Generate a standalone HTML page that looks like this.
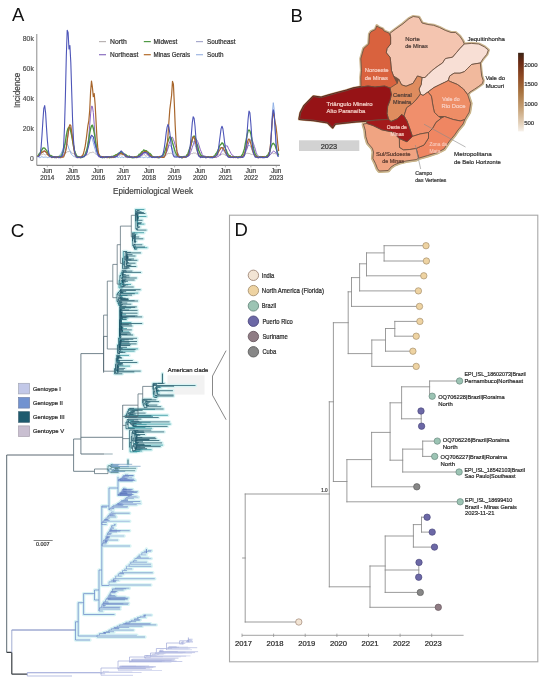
<!DOCTYPE html>
<html><head><meta charset="utf-8"><style>
html,body{margin:0;padding:0;background:#fff;}
svg{display:block;font-family:'Liberation Sans', Arial, sans-serif;}
</style></head><body>
<svg width="550" height="687" viewBox="0 0 550 687">
<rect width="550" height="687" fill="#fff"/>
<text x="12" y="21.4" font-size="18.5" fill="#111" text-anchor="start" >A</text>
<line x1="36.8" y1="34" x2="36.8" y2="165.4" stroke="#8c8c8c" stroke-width="1"/>
<line x1="36.8" y1="165.3" x2="280" y2="165.3" stroke="#6a6a6a" stroke-width="1"/>
<text x="33.8" y="160.9" font-size="6.8" fill="#555" text-anchor="end" stroke="#555" stroke-width="0.22" >0</text>
<text x="33.8" y="130.9" font-size="6.8" fill="#555" text-anchor="end" stroke="#555" stroke-width="0.22" >20k</text>
<text x="33.8" y="100.9" font-size="6.8" fill="#555" text-anchor="end" stroke="#555" stroke-width="0.22" >40k</text>
<text x="33.8" y="70.9" font-size="6.8" fill="#555" text-anchor="end" stroke="#555" stroke-width="0.22" >60k</text>
<text x="33.8" y="40.9" font-size="6.8" fill="#555" text-anchor="end" stroke="#555" stroke-width="0.22" >80k</text>
<line x1="47.3" y1="165.4" x2="47.3" y2="167.4" stroke="#8a8a8a" stroke-width="0.6"/>
<text x="47.3" y="172.8" font-size="6.3" fill="#444" text-anchor="middle" stroke="#444" stroke-width="0.22" >Jun</text>
<text x="47.3" y="179.9" font-size="6.3" fill="#444" text-anchor="middle" stroke="#444" stroke-width="0.22" >2014</text>
<line x1="72.8" y1="165.4" x2="72.8" y2="167.4" stroke="#8a8a8a" stroke-width="0.6"/>
<text x="72.8" y="172.8" font-size="6.3" fill="#444" text-anchor="middle" stroke="#444" stroke-width="0.22" >Jun</text>
<text x="72.8" y="179.9" font-size="6.3" fill="#444" text-anchor="middle" stroke="#444" stroke-width="0.22" >2015</text>
<line x1="98.2" y1="165.4" x2="98.2" y2="167.4" stroke="#8a8a8a" stroke-width="0.6"/>
<text x="98.2" y="172.8" font-size="6.3" fill="#444" text-anchor="middle" stroke="#444" stroke-width="0.22" >Jun</text>
<text x="98.2" y="179.9" font-size="6.3" fill="#444" text-anchor="middle" stroke="#444" stroke-width="0.22" >2016</text>
<line x1="123.6" y1="165.4" x2="123.6" y2="167.4" stroke="#8a8a8a" stroke-width="0.6"/>
<text x="123.6" y="172.8" font-size="6.3" fill="#444" text-anchor="middle" stroke="#444" stroke-width="0.22" >Jun</text>
<text x="123.6" y="179.9" font-size="6.3" fill="#444" text-anchor="middle" stroke="#444" stroke-width="0.22" >2017</text>
<line x1="149.1" y1="165.4" x2="149.1" y2="167.4" stroke="#8a8a8a" stroke-width="0.6"/>
<text x="149.1" y="172.8" font-size="6.3" fill="#444" text-anchor="middle" stroke="#444" stroke-width="0.22" >Jun</text>
<text x="149.1" y="179.9" font-size="6.3" fill="#444" text-anchor="middle" stroke="#444" stroke-width="0.22" >2018</text>
<line x1="174.6" y1="165.4" x2="174.6" y2="167.4" stroke="#8a8a8a" stroke-width="0.6"/>
<text x="174.6" y="172.8" font-size="6.3" fill="#444" text-anchor="middle" stroke="#444" stroke-width="0.22" >Jun</text>
<text x="174.6" y="179.9" font-size="6.3" fill="#444" text-anchor="middle" stroke="#444" stroke-width="0.22" >2019</text>
<line x1="200" y1="165.4" x2="200" y2="167.4" stroke="#8a8a8a" stroke-width="0.6"/>
<text x="200" y="172.8" font-size="6.3" fill="#444" text-anchor="middle" stroke="#444" stroke-width="0.22" >Jun</text>
<text x="200" y="179.9" font-size="6.3" fill="#444" text-anchor="middle" stroke="#444" stroke-width="0.22" >2020</text>
<line x1="225.4" y1="165.4" x2="225.4" y2="167.4" stroke="#8a8a8a" stroke-width="0.6"/>
<text x="225.4" y="172.8" font-size="6.3" fill="#444" text-anchor="middle" stroke="#444" stroke-width="0.22" >Jun</text>
<text x="225.4" y="179.9" font-size="6.3" fill="#444" text-anchor="middle" stroke="#444" stroke-width="0.22" >2021</text>
<line x1="250.9" y1="165.4" x2="250.9" y2="167.4" stroke="#8a8a8a" stroke-width="0.6"/>
<text x="250.9" y="172.8" font-size="6.3" fill="#444" text-anchor="middle" stroke="#444" stroke-width="0.22" >Jun</text>
<text x="250.9" y="179.9" font-size="6.3" fill="#444" text-anchor="middle" stroke="#444" stroke-width="0.22" >2022</text>
<line x1="276.3" y1="165.4" x2="276.3" y2="167.4" stroke="#8a8a8a" stroke-width="0.6"/>
<text x="276.3" y="172.8" font-size="6.3" fill="#444" text-anchor="middle" stroke="#444" stroke-width="0.22" >Jun</text>
<text x="276.3" y="179.9" font-size="6.3" fill="#444" text-anchor="middle" stroke="#444" stroke-width="0.22" >2023</text>
<text x="19.6" y="90.4" font-size="9.3" fill="#444" text-anchor="middle" stroke="#444" stroke-width="0.22" textLength="35.3" lengthAdjust="spacingAndGlyphs" transform="rotate(-90 19.6 90.4)">Incidence</text>
<text x="153" y="194.4" font-size="9.3" fill="#444" text-anchor="middle" stroke="#444" stroke-width="0.22" textLength="80" lengthAdjust="spacingAndGlyphs" >Epidemiological Week</text>
<line x1="99" y1="41.6" x2="106" y2="41.6" stroke="#b9b3b3" stroke-width="1.2"/>
<text x="110" y="44" font-size="6.7" fill="#333" text-anchor="start" stroke="#333" stroke-width="0.22" textLength="16.7" lengthAdjust="spacingAndGlyphs" >North</text>
<line x1="99" y1="54.7" x2="106" y2="54.7" stroke="#8b6fc0" stroke-width="1.2"/>
<text x="110" y="57.1" font-size="6.7" fill="#333" text-anchor="start" stroke="#333" stroke-width="0.22" textLength="28.3" lengthAdjust="spacingAndGlyphs" >Northeast</text>
<line x1="143.8" y1="41.6" x2="150.8" y2="41.6" stroke="#4f9a45" stroke-width="1.2"/>
<text x="153.6" y="44" font-size="6.7" fill="#333" text-anchor="start" stroke="#333" stroke-width="0.22" textLength="23.7" lengthAdjust="spacingAndGlyphs" >Midwest</text>
<line x1="143.8" y1="54.7" x2="150.8" y2="54.7" stroke="#b36a28" stroke-width="1.2"/>
<text x="153.6" y="57.1" font-size="6.7" fill="#333" text-anchor="start" stroke="#333" stroke-width="0.22" textLength="36.4" lengthAdjust="spacingAndGlyphs" >Minas Gerais</text>
<line x1="196" y1="41.6" x2="203" y2="41.6" stroke="#a7a9cc" stroke-width="1.2"/>
<text x="207" y="44" font-size="6.7" fill="#333" text-anchor="start" stroke="#333" stroke-width="0.22" textLength="28.5" lengthAdjust="spacingAndGlyphs" >Southeast</text>
<line x1="196" y1="54.7" x2="203" y2="54.7" stroke="#9fb6e3" stroke-width="1.2"/>
<text x="207" y="57.1" font-size="6.7" fill="#333" text-anchor="start" stroke="#333" stroke-width="0.22" textLength="16.5" lengthAdjust="spacingAndGlyphs" >South</text>
<polyline points="37.5,156.8 38.4,155.7 39.3,155.4 40.2,155.6 41.1,154.9 42,154.6 42.9,154.1 43.8,153.9 44.7,154.7 45.6,155 46.5,154.3 47.4,155.2 48.3,155.2 49.2,156.5 50.1,156.3 51,156.3 51.9,157.1 52.8,156.4 53.7,156.6 54.6,157.7 55.5,157.7 56.4,157.1 57.3,156.6 58.2,157.2 59.1,157.3 60,156.8 60.9,157 61.8,156.3 62.7,155.5 63.6,154.8 64.5,154.3 65.4,153.5 66.3,152.8 67.2,151.8 68.1,151.6 69,151.8 69.9,150.9 70.8,151.7 71.7,152.3 72.6,153.6 73.5,153.4 74.4,154.4 75.3,155.9 76.2,156.2 77.1,156.2 78,156.5 78.9,156.4 79.8,157.1 80.7,156.7 81.6,156.8 82.5,157.1 83.4,156.6 84.3,156 85.2,155.6 86.1,155.5 87,154.8 87.9,154.8 88.8,153.9 89.7,152.6 90.6,152.6 91.5,152.6 92.4,152.2 93.3,152.2 94.2,152.7 95.1,153.6 96,154.2 96.9,154.8 97.8,155.1 98.7,155.9 99.6,156.5 100.5,156.7 101.4,157.4 102.3,157.6 103.2,156.9 104.1,156.6 105,157.1 105.9,157.3 106.8,157.6 107.7,157.2 108.6,156.6 109.5,156.8 110.4,157.1 111.3,156.7 112.2,157.3 113.1,156.9 114,156.2 114.9,156.5 115.8,156.4 116.7,156.4 117.6,155.7 118.5,155 119.4,155.9 120.3,154.9 121.2,154.8 122.1,154.8 123,155.1 123.9,155.3 124.8,155.9 125.7,156.1 126.6,156.5 127.5,157.2 128.4,156.4 129.3,156.9 130.2,157.4 131.1,157.1 132,157.2 132.9,157.3 133.8,157.3 134.7,157.1 135.6,156.9 136.5,156.9 137.4,156.9 138.3,157.3 139.2,156.8 140.1,156.6 141,155.9 141.9,155.3 142.8,155.1 143.7,154.9 144.6,154.8 145.5,155.5 146.4,154.9 147.3,155.3 148.2,156.2 149.1,156.6 150,156.9 150.9,156.2 151.8,157 152.7,157.4 153.6,156.9 154.5,157.3 155.4,157.6 156.3,157.6 157.2,157.1 158.1,157.6 159,157.4 159.9,156.8 160.8,157 161.7,156.9 162.6,156.5 163.5,156.7 164.4,155.8 165.3,155.3 166.2,155 167.1,154.6 168,153.2 168.9,153.3 169.8,153.6 170.7,153.1 171.6,153.1 172.5,154.5 173.4,155 174.3,155.4 175.2,155.2 176.1,156.4 177,156.1 177.9,156.4 178.8,156.8 179.7,157.3 180.6,156.5 181.5,156.8 182.4,157.1 183.3,157.4 184.2,156.8 185.1,157 186,156.6 186.9,156.6 187.8,155.8 188.7,156.1 189.6,155.3 190.5,153.9 191.4,153.5 192.3,153.8 193.2,152.8 194.1,153.4 195,152.8 195.9,153.3 196.8,154.2 197.7,154.9 198.6,155.7 199.5,155.2 200.4,156.6 201.3,156.1 202.2,156.2 203.1,156.8 204,157.4 204.9,156.7 205.8,156.6 206.7,156.9 207.6,157.2 208.5,157.3 209.4,157.4 210.3,157.5 211.2,156.9 212.1,157.1 213,157.3 213.9,157.3 214.8,156.4 215.7,156.6 216.6,156 217.5,155.8 218.4,154.8 219.3,154.3 220.2,155.1 221.1,154.6 222,154.4 222.9,153.7 223.8,154.1 224.7,155 225.6,155.5 226.5,155.4 227.4,155.6 228.3,155.8 229.2,156.8 230.1,156.4 231,156.7 231.9,157.1 232.8,156.5 233.7,157.5 234.6,156.9 235.5,157.7 236.4,157.6 237.3,156.7 238.2,157.4 239.1,156.7 240,156.8 240.9,156.3 241.8,156.6 242.7,156.2 243.6,155.8 244.5,154.6 245.4,154.4 246.3,153.5 247.2,153.1 248.1,153.7 249,153.1 249.9,153.8 250.8,154.1 251.7,154.5 252.6,154.1 253.5,154.7 254.4,155.2 255.3,156.2 256.2,156.3 257.1,156.3 258,157 258.9,156.9 259.8,157.4 260.7,157.6 261.6,157.4 262.5,156.6 263.4,156.9 264.3,156.3 265.2,156.7 266.1,156.6 267,155.6 267.9,155 268.8,155.5 269.7,154.1 270.6,154.3 271.5,153.9 272.4,152.8 273.3,153.8 274.2,153.7 275.1,153.1 276,154.3 276.9,155.2 277.8,155.7 278.7,156.1" fill="none" stroke="#bcb4b4" stroke-width="0.9" stroke-linejoin="round"/>
<polyline points="37.5,156.7 38.4,156.7 39.3,157.7 40.2,157.7 41.1,156.8 42,156.9 42.9,157 43.8,157.4 44.7,157.1 45.6,157.1 46.5,157.1 47.4,157.6 48.3,157.3 49.2,157.3 50.1,156.9 51,156.6 51.9,156.7 52.8,157.1 53.7,157.3 54.6,157.5 55.5,157.7 56.4,157.7 57.3,157 58.2,156.9 59.1,156.3 60,154.8 60.9,153.9 61.8,151.9 62.7,149.9 63.6,147.6 64.5,145.1 65.4,143.9 66.3,143.3 67.2,143.7 68.1,146 69,149.1 69.9,150.7 70.8,153 71.7,154.6 72.6,155.5 73.5,156.3 74.4,156.6 75.3,157.3 76.2,156.6 77.1,156.6 78,157.6 78.9,156.9 79.8,156.9 80.7,157.2 81.6,157 82.5,156.9 83.4,155.9 84.3,155.5 85.2,153.7 86.1,152.1 87,148.5 87.9,145 88.8,142 89.7,138.9 90.6,136.9 91.5,137.2 92.4,139.3 93.3,142.6 94.2,146.1 95.1,149.1 96,152.6 96.9,153.8 97.8,155.9 98.7,156 99.6,157.1 100.5,156.5 101.4,156.9 102.3,157.2 103.2,157.2 104.1,157 105,157.1 105.9,157.4 106.8,157.6 107.7,157.2 108.6,156.7 109.5,157.1 110.4,157.7 111.3,156.8 112.2,156.9 113.1,156.7 114,157.6 114.9,156.9 115.8,157.7 116.7,157 117.6,157.5 118.5,157.5 119.4,156.7 120.3,157.7 121.2,157.2 122.1,156.8 123,157.5 123.9,157.5 124.8,156.7 125.7,157.3 126.6,156.9 127.5,157.7 128.4,157.4 129.3,157.6 130.2,157 131.1,157.7 132,156.7 132.9,157.7 133.8,156.9 134.7,157.7 135.6,157.5 136.5,156.8 137.4,157.6 138.3,157.6 139.2,157 140.1,157.3 141,157.7 141.9,156.6 142.8,157.6 143.7,157.7 144.6,157.4 145.5,157.1 146.4,156.9 147.3,157.7 148.2,157.4 149.1,157.7 150,157.3 150.9,156.9 151.8,156.9 152.7,156.7 153.6,156.9 154.5,156.8 155.4,157 156.3,157.2 157.2,157.5 158.1,157 159,157.4 159.9,157.6 160.8,157.2 161.7,156.5 162.6,157.1 163.5,156 164.4,155.2 165.3,153.7 166.2,152.2 167.1,149.1 168,147.9 168.9,145.9 169.8,145.3 170.7,146.1 171.6,146.7 172.5,149.2 173.4,151.4 174.3,153.5 175.2,154.9 176.1,156.2 177,156.2 177.9,156.8 178.8,156.5 179.7,156.6 180.6,156.6 181.5,157.5 182.4,157.2 183.3,157.4 184.2,156.9 185.1,156.6 186,155.8 186.9,154.9 187.8,153.9 188.7,151.6 189.6,148.8 190.5,146.5 191.4,143.9 192.3,141.7 193.2,141.7 194.1,142 195,144.7 195.9,147.7 196.8,150.4 197.7,152.8 198.6,154.7 199.5,155.6 200.4,156.5 201.3,157.1 202.2,156.9 203.1,157.5 204,156.7 204.9,156.6 205.8,156.9 206.7,157.3 207.6,157.2 208.5,157.1 209.4,157.7 210.3,157.3 211.2,157.1 212.1,157.5 213,157.4 213.9,156.2 214.8,156.2 215.7,155.1 216.6,153.3 217.5,152 218.4,150.6 219.3,148.1 220.2,147.7 221.1,147.8 222,147.5 222.9,149.5 223.8,151 224.7,152.1 225.6,153.9 226.5,155.9 227.4,156.2 228.3,156.8 229.2,157 230.1,157.4 231,157.1 231.9,157.7 232.8,157.5 233.7,157.4 234.6,156.7 235.5,157.7 236.4,156.9 237.3,157.6 238.2,157.1 239.1,157.3 240,157.1 240.9,156.6 241.8,156.7 242.7,156.3 243.6,155.3 244.5,153.8 245.4,150.9 246.3,149 247.2,146.6 248.1,145.5 249,145.8 249.9,145.5 250.8,146.8 251.7,148.9 252.6,151.4 253.5,153.5 254.4,154.9 255.3,155.5 256.2,156.8 257.1,156.9 258,157.1 258.9,156.6 259.8,156.8 260.7,156.7 261.6,156.8 262.5,157.4 263.4,157.5 264.3,157.2 265.2,157.5 266.1,157.3 267,157 267.9,156.6 268.8,156.6 269.7,154.2 270.6,148.1 271.5,132.7 272.4,112.6 273.3,102.7 274.2,109.6 275.1,128.8 276,145.5 276.9,153.1 277.8,155.9 278.7,156.9" fill="none" stroke="#8fb0e6" stroke-width="1.0" stroke-linejoin="round"/>
<polyline points="37.5,156.4 38.4,155.5 39.3,154.9 40.2,153.7 41.1,152.8 42,152.6 42.9,152.1 43.8,150.8 44.7,151.6 45.6,152.1 46.5,152 47.4,153.5 48.3,154 49.2,155.2 50.1,155.7 51,156.8 51.9,156.6 52.8,156.5 53.7,157 54.6,156.8 55.5,157 56.4,157.7 57.3,156.9 58.2,157.1 59.1,157.4 60,157.7 60.9,156.7 61.8,157 62.7,156.4 63.6,155.3 64.5,153.7 65.4,150.4 66.3,146.4 67.2,140 68.1,134.3 69,128.8 69.9,126.8 70.8,129.1 71.7,133.4 72.6,139.3 73.5,144.5 74.4,150.1 75.3,153.3 76.2,155.7 77.1,156.5 78,157.1 78.9,157.3 79.8,157.1 80.7,157.1 81.6,156.7 82.5,157 83.4,156.6 84.3,156.6 85.2,156 86.1,155.1 87,152.7 87.9,146.2 88.8,136.9 89.7,125.2 90.6,113.9 91.5,106.2 92.4,106.3 93.3,112.5 94.2,124.2 95.1,136.5 96,146.3 96.9,151.4 97.8,154.4 98.7,156.9 99.6,156.6 100.5,157.3 101.4,157.6 102.3,157.4 103.2,156.9 104.1,156.8 105,157.7 105.9,157.1 106.8,157.7 107.7,156.9 108.6,157.4 109.5,156.7 110.4,156.6 111.3,157.2 112.2,156.5 113.1,157.3 114,157.4 114.9,156.6 115.8,156.9 116.7,156.1 117.6,155.2 118.5,154.2 119.4,154.1 120.3,153.9 121.2,152.8 122.1,153.7 123,153.4 123.9,154.2 124.8,155.6 125.7,156.1 126.6,156.5 127.5,156.6 128.4,156.9 129.3,157 130.2,157 131.1,156.7 132,157.2 132.9,157.3 133.8,156.9 134.7,157.5 135.6,157.4 136.5,156.6 137.4,157 138.3,156.8 139.2,157.2 140.1,156.2 141,155.5 141.9,155.4 142.8,154 143.7,153.4 144.6,153.8 145.5,153.1 146.4,153.7 147.3,154 148.2,155.1 149.1,155.4 150,155.9 150.9,157.2 151.8,157.4 152.7,156.8 153.6,156.6 154.5,157.5 155.4,157.2 156.3,157.1 157.2,157.4 158.1,157.4 159,157.4 159.9,157.3 160.8,157 161.7,157.3 162.6,157.1 163.5,156.3 164.4,156.6 165.3,154.9 166.2,153 167.1,151.2 168,148.4 168.9,144.3 169.8,141.7 170.7,139.2 171.6,137.4 172.5,137.2 173.4,139.5 174.3,142 175.2,145.3 176.1,148 177,151.4 177.9,153.1 178.8,155.5 179.7,156.3 180.6,156.5 181.5,156.5 182.4,157.2 183.3,157.5 184.2,157.6 185.1,157.1 186,157.4 186.9,156.4 187.8,156 188.7,156 189.6,154.7 190.5,152.3 191.4,150.2 192.3,147.2 193.2,144.8 194.1,142.4 195,140.3 195.9,138.9 196.8,140 197.7,141.6 198.6,144.1 199.5,147 200.4,149.9 201.3,151.7 202.2,154.5 203.1,156 204,155.7 204.9,156.3 205.8,156.4 206.7,157.2 207.6,156.6 208.5,156.7 209.4,157.5 210.3,156.9 211.2,156.8 212.1,157 213,157.2 213.9,157.4 214.8,157.4 215.7,157.4 216.6,157.5 217.5,156.7 218.4,156.6 219.3,155.3 220.2,155.2 221.1,152.7 222,151.2 222.9,149 223.8,147.1 224.7,145.6 225.6,145.2 226.5,145.9 227.4,145.9 228.3,148.2 229.2,149.9 230.1,151.5 231,153.4 231.9,154.9 232.8,155.2 233.7,156.3 234.6,157 235.5,157.3 236.4,156.7 237.3,157.2 238.2,156.8 239.1,157.4 240,157.5 240.9,157 241.8,156.5 242.7,156.8 243.6,155.4 244.5,154.1 245.4,152.6 246.3,150.3 247.2,148.5 248.1,144.8 249,141.8 249.9,140.7 250.8,139.5 251.7,139.9 252.6,141.2 253.5,143.8 254.4,146.6 255.3,149.2 256.2,152.6 257.1,154.5 258,155.8 258.9,156.6 259.8,157.2 260.7,156.4 261.6,156.7 262.5,157.7 263.4,157.2 264.3,157.4 265.2,157.3 266.1,157.2 267,156.6 267.9,156.3 268.8,156 269.7,155.4 270.6,154.2 271.5,153.4 272.4,151.9 273.3,151.1 274.2,151.4 275.1,152.1 276,152.8 276.9,153.6 277.8,154.4 278.7,155.1" fill="none" stroke="#8a64c4" stroke-width="1.0" stroke-linejoin="round"/>
<polyline points="37.5,155.9 38.4,155.2 39.3,153.7 40.2,152.6 41.1,151.3 42,149.7 42.9,148.1 43.8,147.9 44.7,148.1 45.6,149.4 46.5,150.2 47.4,151.9 48.3,153.4 49.2,154.7 50.1,155.6 51,155.5 51.9,156.1 52.8,156.5 53.7,156.6 54.6,157.5 55.5,157.4 56.4,157 57.3,156.9 58.2,156.7 59.1,156.5 60,157.1 60.9,155.9 61.8,154.6 62.7,152.9 63.6,150.4 64.5,146.1 65.4,141.8 66.3,135.7 67.2,131.2 68.1,128.3 69,127.4 69.9,127.9 70.8,131.5 71.7,135.7 72.6,140.8 73.5,146 74.4,150.1 75.3,152.8 76.2,154.9 77.1,156.4 78,156.9 78.9,156.6 79.8,157.6 80.7,157.7 81.6,157 82.5,157.3 83.4,156.6 84.3,156 85.2,154.9 86.1,152 87,149.6 87.9,144.7 88.8,139.4 89.7,133.2 90.6,128.8 91.5,125.8 92.4,125.2 93.3,128.3 94.2,132.7 95.1,138 96,144.5 96.9,149.3 97.8,152.6 98.7,154.2 99.6,155.8 100.5,156.9 101.4,157.2 102.3,157.5 103.2,157.2 104.1,157.7 105,157 105.9,156.7 106.8,156.6 107.7,156.9 108.6,156.6 109.5,157.7 110.4,157.3 111.3,156.4 112.2,156.4 113.1,156.6 114,155.6 114.9,155.5 115.8,154.7 116.7,154.6 117.6,154.1 118.5,153.2 119.4,153 120.3,152.4 121.2,151.7 122.1,152.6 123,153.4 123.9,153.9 124.8,154.4 125.7,154.4 126.6,155.5 127.5,156.1 128.4,156.8 129.3,156 130.2,156.9 131.1,157.3 132,157.6 132.9,157.7 133.8,157.5 134.7,156.7 135.6,157.2 136.5,157 137.4,156.1 138.3,155.8 139.2,154.2 140.1,154.3 141,152.9 141.9,151.7 142.8,151.3 143.7,150 144.6,150.3 145.5,150.6 146.4,150.7 147.3,151.8 148.2,152.2 149.1,153.4 150,153.5 150.9,154.4 151.8,155.6 152.7,156.7 153.6,156.8 154.5,157.1 155.4,157.3 156.3,157.4 157.2,156.7 158.1,157.6 159,157.7 159.9,156.5 160.8,156.8 161.7,155.9 162.6,155.9 163.5,154.2 164.4,152.7 165.3,150 166.2,147 167.1,143.9 168,141.2 168.9,138.7 169.8,136.8 170.7,137.2 171.6,139 172.5,142.7 173.4,145.6 174.3,148.7 175.2,151.7 176.1,153.6 177,155.3 177.9,156.1 178.8,156.5 179.7,157.3 180.6,156.6 181.5,156.6 182.4,157.7 183.3,156.6 184.2,156.5 185.1,156.6 186,156.8 186.9,154.9 187.8,154.4 188.7,151.3 189.6,148.8 190.5,146.2 191.4,142.5 192.3,138.8 193.2,136.8 194.1,135.9 195,136.7 195.9,139.9 196.8,143.5 197.7,145.9 198.6,150.3 199.5,152 200.4,154.8 201.3,155.3 202.2,156.1 203.1,156.4 204,157 204.9,156.7 205.8,157.5 206.7,157 207.6,157.4 208.5,156.7 209.4,156.9 210.3,157.2 211.2,157 212.1,157.5 213,157.2 213.9,156.1 214.8,155.5 215.7,154 216.6,152.8 217.5,151.5 218.4,149.1 219.3,146.5 220.2,144.9 221.1,144.2 222,142.8 222.9,143.3 223.8,145.4 224.7,146.8 225.6,149.1 226.5,150.7 227.4,153.2 228.3,154.7 229.2,155.5 230.1,155.7 231,157.2 231.9,157.4 232.8,156.9 233.7,156.7 234.6,157.2 235.5,157.3 236.4,156.8 237.3,156.9 238.2,157.7 239.1,156.6 240,157.3 240.9,156.7 241.8,155.3 242.7,154.3 243.6,151.4 244.5,148.7 245.4,143.4 246.3,139.2 247.2,134.7 248.1,130.9 249,129.9 249.9,130.9 250.8,133.7 251.7,138.6 252.6,144.4 253.5,148.5 254.4,151.7 255.3,154.2 256.2,155.4 257.1,156.5 258,157.4 258.9,157.4 259.8,156.7 260.7,157.4 261.6,156.9 262.5,156.6 263.4,157 264.3,156.9 265.2,156.9 266.1,157 267,155.7 267.9,155.2 268.8,153.1 269.7,151.6 270.6,148.3 271.5,145.7 272.4,143.9 273.3,143.3 274.2,144.2 275.1,145.2 276,148.3 276.9,150.6 277.8,153.6 278.7,155.4" fill="none" stroke="#4e9640" stroke-width="1.4" stroke-linejoin="round"/>
<polyline points="37.5,156.5 38.4,155.9 39.3,155.1 40.2,154 41.1,153.2 42,151.9 42.9,152.2 43.8,151.3 44.7,150.8 45.6,151.8 46.5,152.5 47.4,154.5 48.3,155.1 49.2,156.2 50.1,156.4 51,156.7 51.9,157.6 52.8,157.5 53.7,157.4 54.6,156.7 55.5,156.9 56.4,157.6 57.3,156.8 58.2,157.6 59.1,157.1 60,157.6 60.9,157.7 61.8,156.7 62.7,157.3 63.6,156.9 64.5,154.7 65.4,152.3 66.3,148.4 67.2,140.9 68.1,133.7 69,127 69.9,124.6 70.8,125.6 71.7,131.9 72.6,139.2 73.5,146.4 74.4,152.1 75.3,155 76.2,156.7 77.1,157.3 78,157.6 78.9,157.4 79.8,157 80.7,157.5 81.6,156.2 82.5,155.6 83.4,153.9 84.3,150.2 85.2,146.1 86.1,140.2 87,133 87.9,125.6 88.8,120.8 89.7,110.5 90.6,91.6 91.5,81 92.4,87.2 93.3,96.6 94.2,93.6 95.1,103.9 96,120.2 96.9,137 97.8,148.2 98.7,154 99.6,155.6 100.5,157.3 101.4,156.8 102.3,156.7 103.2,156.7 104.1,157.4 105,157.4 105.9,157.2 106.8,156.9 107.7,157.7 108.6,156.9 109.5,156.8 110.4,156.8 111.3,157.7 112.2,156.6 113.1,157.6 114,157.1 114.9,156.6 115.8,155.8 116.7,156 117.6,154.6 118.5,154.3 119.4,154 120.3,153.5 121.2,153.6 122.1,154 123,154.4 123.9,154.5 124.8,154.8 125.7,156.4 126.6,157 127.5,156.2 128.4,157 129.3,157.2 130.2,157.5 131.1,157.1 132,156.8 132.9,157.3 133.8,157.3 134.7,157.7 135.6,156.7 136.5,157.7 137.4,157 138.3,156.3 139.2,156.7 140.1,155.3 141,154.2 141.9,153.5 142.8,152.3 143.7,152.2 144.6,151.3 145.5,151.7 146.4,151.4 147.3,153 148.2,153.9 149.1,154.2 150,155.3 150.9,155.8 151.8,156.8 152.7,157 153.6,156.8 154.5,157.2 155.4,157.4 156.3,157.3 157.2,157.6 158.1,157.3 159,156.6 159.9,156.6 160.8,157 161.7,157.2 162.6,157.4 163.5,157.5 164.4,156.9 165.3,154.9 166.2,151.7 167.1,145.9 168,135.2 168.9,122 169.8,109.6 170.7,102.5 171.6,95.2 172.5,81.4 173.4,84.1 174.3,103.1 175.2,125.6 176.1,142.5 177,151.9 177.9,156.1 178.8,156.4 179.7,157 180.6,157.1 181.5,157.7 182.4,157.1 183.3,157.5 184.2,157 185.1,157.2 186,156.6 186.9,156.4 187.8,155.4 188.7,154.2 189.6,151.1 190.5,147.2 191.4,142.8 192.3,139.6 193.2,136.9 194.1,137.3 195,140.3 195.9,144 196.8,148.3 197.7,152.3 198.6,154.7 199.5,156.5 200.4,156.4 201.3,156.5 202.2,157.2 203.1,157 204,156.9 204.9,156.9 205.8,157.6 206.7,156.9 207.6,157.1 208.5,157 209.4,157.3 210.3,157 211.2,156.9 212.1,157 213,156.8 213.9,157.5 214.8,157 215.7,156.2 216.6,155 217.5,154.3 218.4,152.1 219.3,150.4 220.2,149.4 221.1,147.7 222,147.5 222.9,148.2 223.8,149.3 224.7,150.7 225.6,152.7 226.5,154.3 227.4,155.8 228.3,156.1 229.2,156.8 230.1,156.8 231,157 231.9,157.5 232.8,156.7 233.7,157.7 234.6,157.3 235.5,157.5 236.4,157.3 237.3,157.7 238.2,156.8 239.1,157.3 240,157.7 240.9,157 241.8,157.4 242.7,156.4 243.6,155.6 244.5,153.5 245.4,150.3 246.3,146.8 247.2,143.4 248.1,140 249,139 249.9,140.5 250.8,143.7 251.7,147 252.6,150.7 253.5,153.1 254.4,154.9 255.3,156.3 256.2,157.1 257.1,156.6 258,157.7 258.9,157.7 259.8,157.1 260.7,157.1 261.6,157.6 262.5,157 263.4,156.7 264.3,157.3 265.2,157.3 266.1,157.5 267,157.4 267.9,156.2 268.8,155.6 269.7,151.2 270.6,143.3 271.5,131.3 272.4,118.9 273.3,111.7 274.2,116.4 275.1,122.3 276,126.5 276.9,134.3 277.8,144.1 278.7,151.1" fill="none" stroke="#a8662c" stroke-width="1.2" stroke-linejoin="round"/>
<polyline points="37.5,156.8 38.4,156.5 39.3,156 40.2,153.5 41.1,147.3 42,135.1 42.9,120.8 43.8,108.3 44.7,105.6 45.6,112.9 46.5,127.6 47.4,140.6 48.3,149.9 49.2,154.9 50.1,156.5 51,156.8 51.9,157.5 52.8,157.1 53.7,156.8 54.6,157.5 55.5,156.8 56.4,157 57.3,156.8 58.2,157.4 59.1,157.7 60,156.8 60.9,156.7 61.8,156.5 62.7,154.5 63.6,146.6 64.5,127.5 65.4,95.9 66.3,56.5 67.2,30.3 68.1,32.5 69,49 69.9,45.6 70.8,62.3 71.7,91.6 72.6,120.5 73.5,140.1 74.4,150.6 75.3,154.9 76.2,156.1 77.1,157.7 78,157.3 78.9,157.1 79.8,157.4 80.7,157.1 81.6,157.6 82.5,156.6 83.4,156.8 84.3,156.8 85.2,155.3 86.1,154.2 87,152.1 87.9,148.6 88.8,145.2 89.7,141.2 90.6,137 91.5,135.3 92.4,136 93.3,136.8 94.2,141 95.1,144.5 96,147.7 96.9,151.3 97.8,154 98.7,155.5 99.6,156.4 100.5,157.3 101.4,156.4 102.3,157.7 103.2,157.3 104.1,156.9 105,157.3 105.9,156.6 106.8,157.5 107.7,156.6 108.6,156.7 109.5,157 110.4,156.7 111.3,157.3 112.2,156.8 113.1,156.8 114,157.1 114.9,157.1 115.8,156.5 116.7,156.4 117.6,155.9 118.5,154 119.4,153.3 120.3,151.9 121.2,150.9 122.1,151.8 123,152.8 123.9,153.9 124.8,154.6 125.7,155.9 126.6,156.7 127.5,156.9 128.4,156.6 129.3,157.4 130.2,157.3 131.1,156.7 132,157.1 132.9,157.5 133.8,157.2 134.7,157.2 135.6,157.6 136.5,157.3 137.4,157.2 138.3,156.4 139.2,156.6 140.1,155.7 141,154.6 141.9,153.8 142.8,153.5 143.7,152.5 144.6,152.5 145.5,152.4 146.4,152.7 147.3,153.1 148.2,153.8 149.1,155.5 150,156.5 150.9,156.5 151.8,157.3 152.7,157.6 153.6,156.8 154.5,157.6 155.4,156.9 156.3,157.4 157.2,156.7 158.1,156.8 159,157.7 159.9,157.5 160.8,156.4 161.7,156.3 162.6,155.2 163.5,152 164.4,147.1 165.3,140.6 166.2,132.9 167.1,127.1 168,124.4 168.9,127.1 169.8,132.8 170.7,140.5 171.6,147.9 172.5,152.2 173.4,155.6 174.3,156.9 175.2,156.8 176.1,157.2 177,156.7 177.9,157 178.8,157 179.7,157.6 180.6,156.8 181.5,157.7 182.4,157.1 183.3,156.7 184.2,156.7 185.1,156.7 186,157.2 186.9,156.8 187.8,156.1 188.7,155.3 189.6,150.5 190.5,143.4 191.4,133.6 192.3,122.6 193.2,116.7 194.1,118.3 195,126 195.9,137.8 196.8,146.3 197.7,152.1 198.6,155.9 199.5,156.2 200.4,157.6 201.3,156.7 202.2,157.5 203.1,156.6 204,157.3 204.9,156.7 205.8,157.7 206.7,157.7 207.6,156.8 208.5,157 209.4,157.2 210.3,157.7 211.2,157.6 212.1,157.4 213,157.7 213.9,156.6 214.8,156.7 215.7,156.1 216.6,155.4 217.5,153.6 218.4,149.6 219.3,142.3 220.2,135.5 221.1,128.6 222,126.2 222.9,128.7 223.8,135.5 224.7,143.1 225.6,149 226.5,153.9 227.4,155.6 228.3,157.1 229.2,157.3 230.1,157.6 231,157.1 231.9,157.3 232.8,157.5 233.7,157.5 234.6,157.1 235.5,156.7 236.4,157.3 237.3,157.6 238.2,157.4 239.1,157.5 240,157.1 240.9,156.9 241.8,157.1 242.7,157.5 243.6,156.9 244.5,155.4 245.4,151.6 246.3,144 247.2,131.4 248.1,119 249,111.1 249.9,112.7 250.8,123 251.7,135.9 252.6,147.1 253.5,153 254.4,155.4 255.3,157.3 256.2,157 257.1,157.3 258,157.7 258.9,157.7 259.8,156.9 260.7,157.7 261.6,156.9 262.5,157.7 263.4,157.4 264.3,157.7 265.2,157.1 266.1,156.9 267,157.5 267.9,156.9 268.8,155.5 269.7,153 270.6,144.9 271.5,131.2 272.4,116.4 273.3,109.7 274.2,114 275.1,128.5 276,142.8 276.9,150.9 277.8,156.1 278.7,156.3" fill="none" stroke="#4d55b8" stroke-width="1.1" stroke-linejoin="round"/>
<text x="290.5" y="21.5" font-size="18.5" fill="#111" text-anchor="start" >B</text>
<polyline points="363.4,124 365.3,130.4 365.9,136.7 367.8,143 372.3,148.2 373.5,152 372.9,158.4 375.5,163.5 377.4,168.5 379.3,171 388.2,170.5 390.7,167.3 394.5,164.7 400.9,162.2 406,161 411,160.3 416.2,159.6 418.6,158.2 427.7,155.5 436.8,152.7 444,149 447.7,143.6 451.7,138.4 454.6,135 458,130 463,124 464.8,119.5 469.2,112.2 470.6,103.5 467.7,94.7" fill="none" stroke="#c6b07e" stroke-width="4" stroke-linejoin="round"/>
<polygon points="369.2,33.9 368.5,43.9 363.4,48.3 360.5,58.6 361.2,70.3 360.5,77.5 360.7,86.8 353.7,88 346.6,90.3 337.2,92.7 328.9,95.1 320.7,97.4 313.5,96.2 311.1,98.7 304,105.8 300.3,112.9 299.1,119.3 304.2,119.8 313.6,120.5 327.7,122.8 332.6,127.8 335.2,124 346.7,122.8 356.2,121.7 365.6,121.1 366.6,123.3 363,123.8 365,130.5 365.6,136.8 367.5,143.1 372,148.3 373.2,152 372.6,158.5 375.2,163.6 377.1,168.6 379.2,171.3 388.4,170.8 390.9,167.5 394.6,165 401,162.5 406.1,161.3 411,160.6 416.3,159.9 418.7,158.5 427.8,155.8 436.9,153 444.2,149.2 447.9,143.8 449.7,141.2 451.9,138.6 454.8,135.2 458.2,130.2 463.3,124.2 465.1,119.6 469.5,112.3 470.9,103.5 468,94.8 470.2,92.2 474.7,89.5 479,86.5 482.8,83.6 483.5,80.5 482,75.9 481.3,70.3 480.6,63.1 483.4,58.8 487.1,54.5 488.7,49.9 484.8,46.7 478.9,43.7 471.5,43.1 464.5,43.7 463,40.4 460,36 455.6,32.2 451.1,32.2 445.4,30.1 439.6,27.2 433.7,25 427.9,24.2 422.2,22.7 419.2,17 413.2,16.2 408.8,18.4 402.8,23.6 395.6,28.7 389.8,33.1 384.2,30.8 382.8,28.6 379.1,27.1 376.7,25.4 375.2,29.3 370.8,31.5 369.2,33.9" fill="#7a5440" stroke="#ccb690" stroke-width="2.6" stroke-linejoin="round"/>
<polygon points="299.5,119 300.6,113 304.2,106 311.3,98.9 313.6,96.5 320.7,97.7 329,95.4 337.3,93 346.7,90.6 353.8,88.3 361,87 368,86 375,87 384.6,86 390,88 391.4,94.5 390,100.4 387.7,106.2 387,113.5 388.5,119.3 375.5,120.2 356.2,121.4 346.7,122.5 335,123.7 332.6,127.3 327.8,122.5 313.6,120.2 304.2,119.5" fill="none" stroke="#5a1a12" stroke-width="2.2" stroke-linejoin="round"/>
<polygon points="390.6,36.8 390,33.3 395.8,28.9 403,23.8 409,18.7 413.3,16.5 419,17.3 422,23 427.8,24.5 433.6,25.3 439.5,27.5 445.3,30.4 451,32.5 455.5,32.5 459.8,36.2 462.7,40.5 464.3,44 460,48.5 456.3,52.8 452.6,57.2 445.4,58.6 442.5,63 438,66 432.3,70.3 428,74.6 425,77.5 422,77.5 417.5,76 413,83.4 406,86.3 401.5,84.8 398.6,79 393.5,76 391.4,70.3 390.6,61.5 390,57.2 386.3,52.8 387,48.5 390.6,44" fill="#f4c5b0" stroke="#6a5040" stroke-width="0.85" stroke-linejoin="round"/>
<polygon points="464.3,44 471.5,43.4 478.8,44 484.6,47 488.3,50 486.8,54.3 483.2,58.6 480.3,63 476,63.7 471.5,64.5 467.2,68.8 464.3,71.7 460,73.2 454.1,73.2 449.7,76 448.3,80.5 445.4,82 439.5,84.8 433.7,87.7 428,92 423,95.5 420.5,94 419,89 421.2,84.5 422,77.5 425,77.5 428,74.6 432.3,70.3 438,66 442.5,63 445.4,58.6 452.6,57.2 456.3,52.8 460,48.5" fill="#f8dfd5" stroke="#6a5040" stroke-width="0.85" stroke-linejoin="round"/>
<polygon points="480.3,63 481,70.3 481.7,76 483.2,80.5 482.5,83.4 478.8,86.3 474.5,89.2 470,92 467.7,94.7 463.4,89 457.5,84.5 450.3,81.6 448.3,80.5 449.7,76 454.1,73.2 460,73.2 464.3,71.7 467.2,68.8 471.5,64.5 476,63.7" fill="#f1b99d" stroke="#6a5040" stroke-width="0.85" stroke-linejoin="round"/>
<polygon points="428,92 433.7,87.7 439.5,84.8 445.4,82 448.3,80.5 450.3,81.6 457.5,84.5 463.4,89 467.7,94.7 470.6,103.5 469.2,112.2 464.8,119.5 460.5,121 453.2,119.5 444.5,116.5 438.6,116.5 434.3,112.2 432.8,105 431.4,96.2" fill="#ee8d66" stroke="#6a5040" stroke-width="0.85" stroke-linejoin="round"/>
<polygon points="393.5,76 397.2,83.4 398.6,79 401.5,84.8 406,86.3 413,83.4 417.5,76 422,77.5 421.2,84.5 419,89 420.5,94 416.8,99 412.5,103.5 406.6,107.8 404,116 401.5,114.5 397,119 391,121.5 388.5,119.3 387,113.5 387.7,106.2 390,100.4 391.4,94.5 390,88" fill="#df8c5e" stroke="#6a5040" stroke-width="0.85" stroke-linejoin="round"/>
<polygon points="420.5,94 423,95.5 428,92 431.4,96.2 432.8,105 434.3,112.2 438.6,116.5 441.5,118 436,122.4 432.8,128.2 428.5,132.5 420,134 412.4,136.4 410.2,129.8 407,121 404,116 406.6,107.8 412.5,103.5 416.8,99" fill="#f08f6c" stroke="#6a5040" stroke-width="0.85" stroke-linejoin="round"/>
<polygon points="441.5,118 444.5,116.5 453.2,119.5 460.5,121 464.8,119.5 463,124 458,130 454.6,135 451.7,138.4 449.5,141 447.7,143.6 444,149 436.8,152.7 427.7,155.5 418.6,158.2 416.2,148.5 418.6,147.3 424,145 428.5,138 428.5,132.5 432.8,128.2 436,122.4" fill="#ef8662" stroke="#6a5040" stroke-width="0.85" stroke-linejoin="round"/>
<polygon points="399.3,138.5 407,141.8 412.4,136.4 420,134 428.5,132.5 428.5,138 424,145 418.6,147.3 416.2,148.5 409.8,149.5 403.5,150 399.5,147.5" fill="#f2906a" stroke="#6a5040" stroke-width="0.85" stroke-linejoin="round"/>
<polygon points="363.4,124 367,123.5 373,125.5 381.8,129.8 392.7,132 399.3,138.5 399.5,147.5 403.5,150 409.8,149.5 416.2,148.5 418.6,158.2 416.2,159.6 411,160.3 406,161 400.9,162.2 394.5,164.7 390.7,167.3 388.2,170.5 379.3,171 377.4,168.5 375.5,163.5 372.9,158.4 373.5,152 372.3,148.2 367.8,143 365.9,136.7 365.3,130.4" fill="#f0a482" stroke="#6a5040" stroke-width="0.85" stroke-linejoin="round"/>
<polygon points="376.8,25.9 379,27.4 382.6,28.8 384,31 389.2,33.2 390.6,36.8 390.6,44 387,48.5 386.3,52.8 390,57.2 390.6,61.5 391.4,70.3 393.5,76 397.2,83.4 390,88 384.6,86 375,87 368,86 361,87 360.8,77.5 361.5,70.3 360.8,58.6 363.7,48.5 368.8,44 369.5,34 371,31.7 375.4,29.5" fill="#d9623e" stroke="#6a5040" stroke-width="0.85" stroke-linejoin="round"/>
<polygon points="299.5,119 300.6,113 304.2,106 311.3,98.9 313.6,96.5 320.7,97.7 329,95.4 337.3,93 346.7,90.6 353.8,88.3 361,87 368,86 375,87 384.6,86 390,88 391.4,94.5 390,100.4 387.7,106.2 387,113.5 388.5,119.3 375.5,120.2 356.2,121.4 346.7,122.5 335,123.7 332.6,127.3 327.8,122.5 313.6,120.2 304.2,119.5" fill="#961316" stroke="#6a5040" stroke-width="0.85" stroke-linejoin="round"/>
<polygon points="366,121.2 375.5,120.2 388.5,119.3 391,121.5 397,119 401.5,114.5 404,116 407,121 410.2,129.8 412.4,136.4 407,141.8 399.3,138.5 392.7,132 381.8,129.8 373,125.5 367,123.5" fill="#a31a1b" stroke="#6a5040" stroke-width="0.85" stroke-linejoin="round"/>
<text x="405.2" y="41.1" font-size="6.0" fill="#4a3a35" text-anchor="start" stroke="#4a3a35" stroke-width="0.22" textLength="14.5" lengthAdjust="spacingAndGlyphs" >Norte</text>
<text x="405.2" y="48.4" font-size="6.0" fill="#4a3a35" text-anchor="start" stroke="#4a3a35" stroke-width="0.22" textLength="22.5" lengthAdjust="spacingAndGlyphs" >de Minas</text>
<text x="364.8" y="72.4" font-size="6.0" fill="#f8d0c4" text-anchor="start" stroke="#f8d0c4" stroke-width="0.22" textLength="23.8" lengthAdjust="spacingAndGlyphs" >Noroeste</text>
<text x="364.8" y="79.9" font-size="6.0" fill="#f8d0c4" text-anchor="start" stroke="#f8d0c4" stroke-width="0.22" textLength="23" lengthAdjust="spacingAndGlyphs" >de Minas</text>
<text x="326.6" y="105.7" font-size="6.2" fill="#f4d0c8" text-anchor="start" stroke="#f4d0c8" stroke-width="0.22" textLength="46.1" lengthAdjust="spacingAndGlyphs" >Tri&#226;ngulo Mineiro</text>
<text x="326.6" y="112.8" font-size="6.2" fill="#f4d0c8" text-anchor="start" stroke="#f4d0c8" stroke-width="0.22" textLength="38.6" lengthAdjust="spacingAndGlyphs" >Alto Parana&#237;ba</text>
<text x="393.1" y="96.6" font-size="6.0" fill="#4a3a35" text-anchor="start" stroke="#4a3a35" stroke-width="0.22" textLength="18.6" lengthAdjust="spacingAndGlyphs" >Central</text>
<text x="393.1" y="103.9" font-size="6.0" fill="#4a3a35" text-anchor="start" stroke="#4a3a35" stroke-width="0.22" textLength="17.9" lengthAdjust="spacingAndGlyphs" >Mineira</text>
<text x="386.8" y="129" font-size="6.0" fill="#f8d0c4" text-anchor="start" stroke="#f8d0c4" stroke-width="0.22" textLength="20" lengthAdjust="spacingAndGlyphs" >Oeste de</text>
<text x="390.5" y="135.7" font-size="6.0" fill="#f8d0c4" text-anchor="start" stroke="#f8d0c4" stroke-width="0.22" textLength="13.5" lengthAdjust="spacingAndGlyphs" >Minas</text>
<text x="442.3" y="100.9" font-size="6.0" fill="#f8d0c4" text-anchor="start" stroke="#f8d0c4" stroke-width="0.22" textLength="17.4" lengthAdjust="spacingAndGlyphs" >Vale do</text>
<text x="441.5" y="107.7" font-size="6.0" fill="#f8d0c4" text-anchor="start" stroke="#f8d0c4" stroke-width="0.22" textLength="24" lengthAdjust="spacingAndGlyphs" >Rio Doce</text>
<text x="429.5" y="145.9" font-size="6.0" fill="#f7c4b4" text-anchor="start" stroke="#f7c4b4" stroke-width="0.22" textLength="17.5" lengthAdjust="spacingAndGlyphs" >Zona da</text>
<text x="429.5" y="152.5" font-size="6.0" fill="#f7c4b4" text-anchor="start" stroke="#f7c4b4" stroke-width="0.22" textLength="10.9" lengthAdjust="spacingAndGlyphs" >Mata</text>
<text x="375.9" y="155.7" font-size="6.0" fill="#5a3a2e" text-anchor="start" stroke="#5a3a2e" stroke-width="0.22" textLength="34.6" lengthAdjust="spacingAndGlyphs" >Sul/Sudoeste</text>
<text x="382.3" y="162.5" font-size="6.0" fill="#5a3a2e" text-anchor="start" stroke="#5a3a2e" stroke-width="0.22" textLength="21.7" lengthAdjust="spacingAndGlyphs" >de Minas</text>
<text x="467.4" y="41" font-size="6.0" fill="#333" text-anchor="start" stroke="#333" stroke-width="0.22" textLength="37.6" lengthAdjust="spacingAndGlyphs" >Jequitinhonha</text>
<text x="485.4" y="80.3" font-size="6.0" fill="#333" text-anchor="start" stroke="#333" stroke-width="0.22" textLength="19.6" lengthAdjust="spacingAndGlyphs" >Vale do</text>
<text x="485.4" y="87.7" font-size="6.0" fill="#333" text-anchor="start" stroke="#333" stroke-width="0.22" textLength="18.8" lengthAdjust="spacingAndGlyphs" >Mucuri</text>
<text x="454.1" y="155.7" font-size="6.0" fill="#333" text-anchor="start" stroke="#333" stroke-width="0.22" textLength="37.5" lengthAdjust="spacingAndGlyphs" >Metropolitana</text>
<text x="454.1" y="163.8" font-size="6.0" fill="#333" text-anchor="start" stroke="#333" stroke-width="0.22" textLength="46.7" lengthAdjust="spacingAndGlyphs" >de Belo Horizonte</text>
<text x="415.3" y="174.9" font-size="5.8" fill="#333" text-anchor="start" stroke="#333" stroke-width="0.22" textLength="17" lengthAdjust="spacingAndGlyphs" >Campo</text>
<text x="415.3" y="181.9" font-size="5.8" fill="#333" text-anchor="start" stroke="#333" stroke-width="0.22" textLength="31" lengthAdjust="spacingAndGlyphs" >das Vertentes</text>
<line x1="424" y1="124.2" x2="465.5" y2="147" stroke="#8a8a8a" stroke-width="0.6"/>
<line x1="415.3" y1="145" x2="420.7" y2="169" stroke="#8a8a8a" stroke-width="0.6"/>
<rect x="299" y="140.3" width="60.3" height="10.7" fill="#d2d2d2"/>
<text x="329" y="148.8" font-size="7.6" fill="#333" text-anchor="middle" stroke="#333" stroke-width="0.22" textLength="16.5" lengthAdjust="spacingAndGlyphs" >2023</text>
<defs><linearGradient id="cb" x1="0" y1="0" x2="0" y2="1"><stop offset="0" stop-color="#3b2416"/><stop offset="0.12" stop-color="#6a2a14"/><stop offset="0.3" stop-color="#8e4a24"/><stop offset="0.5" stop-color="#a8733f"/><stop offset="0.72" stop-color="#c8a47a"/><stop offset="0.9" stop-color="#e4d2bc"/><stop offset="1" stop-color="#f7f1ea"/></linearGradient></defs>
<rect x="518.1" y="52.8" width="5.7" height="78.6" fill="url(#cb)"/>
<text x="524.2" y="67.2" font-size="6.0" fill="#333" text-anchor="start" stroke="#333" stroke-width="0.22" >2000</text>
<text x="524.2" y="86" font-size="6.0" fill="#333" text-anchor="start" stroke="#333" stroke-width="0.22" >1500</text>
<text x="524.2" y="105.7" font-size="6.0" fill="#333" text-anchor="start" stroke="#333" stroke-width="0.22" >1000</text>
<text x="524.2" y="125.3" font-size="6.0" fill="#333" text-anchor="start" stroke="#333" stroke-width="0.22" >500</text>
<rect x="229.5" y="215.2" width="308.3" height="446.6" fill="none" stroke="#a8a8a8" stroke-width="1.1"/>
<text x="234.4" y="236.3" font-size="18.5" fill="#111" text-anchor="start" >D</text>
<circle cx="253.4" cy="275.3" r="5.2" fill="#f2e4d4" stroke="#a08878" stroke-width="0.9"/>
<text x="261.8" y="277.7" font-size="6.8" fill="#2a2a2a" text-anchor="start" stroke="#2a2a2a" stroke-width="0.22" textLength="12.4" lengthAdjust="spacingAndGlyphs" >India</text>
<circle cx="253.4" cy="290.6" r="5.2" fill="#eed3a2" stroke="#a89270" stroke-width="0.9"/>
<text x="261.8" y="293" font-size="6.8" fill="#2a2a2a" text-anchor="start" stroke="#2a2a2a" stroke-width="0.22" textLength="62.1" lengthAdjust="spacingAndGlyphs" >North America (Florida)</text>
<circle cx="253.4" cy="305.9" r="5.2" fill="#9cc4b4" stroke="#6a8a80" stroke-width="0.9"/>
<text x="261.8" y="308.3" font-size="6.8" fill="#2a2a2a" text-anchor="start" stroke="#2a2a2a" stroke-width="0.22" textLength="14.2" lengthAdjust="spacingAndGlyphs" >Brazil</text>
<circle cx="253.4" cy="321.2" r="5.2" fill="#6c68a6" stroke="#4e4a80" stroke-width="0.9"/>
<text x="262.4" y="323.6" font-size="6.8" fill="#2a2a2a" text-anchor="start" stroke="#2a2a2a" stroke-width="0.22" textLength="30.4" lengthAdjust="spacingAndGlyphs" >Puerto Rico</text>
<circle cx="253.4" cy="336.5" r="5.2" fill="#8f7c84" stroke="#6a5a62" stroke-width="0.9"/>
<text x="262.4" y="338.9" font-size="6.8" fill="#2a2a2a" text-anchor="start" stroke="#2a2a2a" stroke-width="0.22" textLength="25.4" lengthAdjust="spacingAndGlyphs" >Suriname</text>
<circle cx="253.4" cy="351.8" r="5.2" fill="#878787" stroke="#5e5e5e" stroke-width="0.9"/>
<text x="262.4" y="354.2" font-size="6.8" fill="#2a2a2a" text-anchor="start" stroke="#2a2a2a" stroke-width="0.22" textLength="13.7" lengthAdjust="spacingAndGlyphs" >Cuba</text>
<path d="M245.2 494L245.2 622 M245.2 494L329.3 494 M245.2 622L298.8 622 M242.6 558L245.2 558 M329.3 401.8L329.3 586.8 M329.3 401.8L333.4 401.8 M333.4 322.7L333.4 481.5 M333.4 322.7L348.2 322.7 M333.4 481.5L346.9 481.5 M348.2 291.8L348.2 353.6 M348.2 291.8L351.5 291.8 M348.2 353.6L371.8 353.6 M351.5 277.6L351.5 306.4 M351.5 306.4L419.5 306.4 M351.5 277.6L359.6 277.6 M359.6 263.8L359.6 290.9 M359.6 290.9L418.4 290.9 M359.6 263.8L366.5 263.8 M366.5 252.9L366.5 275.8 M366.5 275.8L423.8 275.8 M366.5 252.9L384.1 252.9 M384.1 245.7L384.1 261 M384.1 245.7L426 245.7 M384.1 261L426.4 261 M371.8 340L371.8 366.4 M371.8 366.4L416.2 366.4 M371.8 340L385.5 340 M385.5 328.5L385.5 351.2 M385.5 351.2L412.9 351.2 M385.5 328.5L394.8 328.5 M394.8 321.4L394.8 336.2 M394.8 321.4L419.9 321.4 M394.8 336.2L416.2 336.2 M346.9 459.6L346.9 501.8 M346.9 459.6L371.6 459.6 M346.9 501.8L460.2 501.8 M371.6 432.4L371.6 486.8 M371.6 432.4L390.1 432.4 M371.6 486.8L416.8 486.8 M390.1 402.8L390.1 460.2 M390.1 402.8L401.6 402.8 M390.1 460.2L402.7 460.2 M401.6 386.8L401.6 418.8 M401.6 386.8L429.6 386.8 M401.6 418.8L421.2 418.8 M429.6 381L429.6 396.2 M429.6 381L459.6 381 M429.6 396.2L432.2 396.2 M421.2 411L421.2 426.2 M402.7 449.1L402.7 472 M402.7 449.1L422.7 449.1 M402.7 472L459.1 472 M422.7 441.1L422.7 456.4 M422.7 441.1L437.3 441.1 M422.7 456.4L434.7 456.4 M329.3 586.8L370 586.8 M370 566L370 607.3 M370 607.3L438.3 607.3 M370 566L385.2 566 M385.2 536L385.2 592.4 M385.2 592.4L420.3 592.4 M385.2 536L413.4 536 M385.2 570L418.8 570 M418.8 562.4L418.8 577.2 M413.4 524.6L413.4 547.1 M413.4 547.1L434.5 547.1 M413.4 524.6L421.5 524.6 M421.5 517.2L421.5 532.1 M421.5 517.2L427.1 517.2 M421.5 532.1L432.2 532.1" stroke="#8a8a8a" stroke-width="0.85" fill="none" stroke-linecap="square"/>
<circle cx="298.8" cy="622" r="3.2" fill="#f2e4d4" stroke="#a08878" stroke-width="0.7"/>
<circle cx="419.5" cy="306.4" r="3.2" fill="#eed3a2" stroke="#a89270" stroke-width="0.7"/>
<circle cx="418.4" cy="290.9" r="3.2" fill="#eed3a2" stroke="#a89270" stroke-width="0.7"/>
<circle cx="423.8" cy="275.8" r="3.2" fill="#eed3a2" stroke="#a89270" stroke-width="0.7"/>
<circle cx="426" cy="245.7" r="3.2" fill="#eed3a2" stroke="#a89270" stroke-width="0.7"/>
<circle cx="426.4" cy="261" r="3.2" fill="#eed3a2" stroke="#a89270" stroke-width="0.7"/>
<circle cx="416.2" cy="366.4" r="3.2" fill="#eed3a2" stroke="#a89270" stroke-width="0.7"/>
<circle cx="412.9" cy="351.2" r="3.2" fill="#eed3a2" stroke="#a89270" stroke-width="0.7"/>
<circle cx="419.9" cy="321.4" r="3.2" fill="#eed3a2" stroke="#a89270" stroke-width="0.7"/>
<circle cx="416.2" cy="336.2" r="3.2" fill="#eed3a2" stroke="#a89270" stroke-width="0.7"/>
<circle cx="460.2" cy="501.8" r="3.2" fill="#9cc4b4" stroke="#6a8a80" stroke-width="0.7"/>
<circle cx="416.8" cy="486.8" r="3.2" fill="#878787" stroke="#5e5e5e" stroke-width="0.7"/>
<circle cx="459.6" cy="381" r="3.2" fill="#9cc4b4" stroke="#6a8a80" stroke-width="0.7"/>
<circle cx="432.2" cy="396.2" r="3.2" fill="#9cc4b4" stroke="#6a8a80" stroke-width="0.7"/>
<circle cx="421" cy="411" r="3.2" fill="#6c68a6" stroke="#4e4a80" stroke-width="0.7"/>
<circle cx="421.6" cy="426.2" r="3.2" fill="#6c68a6" stroke="#4e4a80" stroke-width="0.7"/>
<circle cx="459.1" cy="472" r="3.2" fill="#9cc4b4" stroke="#6a8a80" stroke-width="0.7"/>
<circle cx="437.3" cy="441.1" r="3.2" fill="#9cc4b4" stroke="#6a8a80" stroke-width="0.7"/>
<circle cx="434.7" cy="456.4" r="3.2" fill="#9cc4b4" stroke="#6a8a80" stroke-width="0.7"/>
<circle cx="438.3" cy="607.3" r="3.2" fill="#8f7c84" stroke="#6a5a62" stroke-width="0.7"/>
<circle cx="420.3" cy="592.4" r="3.2" fill="#878787" stroke="#5e5e5e" stroke-width="0.7"/>
<circle cx="419" cy="562.4" r="3.2" fill="#6c68a6" stroke="#4e4a80" stroke-width="0.7"/>
<circle cx="418.7" cy="577.2" r="3.2" fill="#6c68a6" stroke="#4e4a80" stroke-width="0.7"/>
<circle cx="434.5" cy="547.1" r="3.2" fill="#6c68a6" stroke="#4e4a80" stroke-width="0.7"/>
<circle cx="427.1" cy="517.2" r="3.2" fill="#6c68a6" stroke="#4e4a80" stroke-width="0.7"/>
<circle cx="432.2" cy="532.1" r="3.2" fill="#6c68a6" stroke="#4e4a80" stroke-width="0.7"/>
<text x="464.5" y="375.5" font-size="5.9" fill="#2a2a2a" text-anchor="start" stroke="#2a2a2a" stroke-width="0.22" textLength="61.3" lengthAdjust="spacingAndGlyphs" >EPI_ISL_18602073|Brazil</text>
<text x="464.5" y="382.5" font-size="5.9" fill="#2a2a2a" text-anchor="start" stroke="#2a2a2a" stroke-width="0.22" textLength="58.6" lengthAdjust="spacingAndGlyphs" >Pernambuco|Northeast</text>
<text x="438.2" y="399.4" font-size="5.9" fill="#2a2a2a" text-anchor="start" stroke="#2a2a2a" stroke-width="0.22" textLength="66.4" lengthAdjust="spacingAndGlyphs" >OQ706228|Brazil|Roraima</text>
<text x="438.2" y="405.5" font-size="5.9" fill="#2a2a2a" text-anchor="start" stroke="#2a2a2a" stroke-width="0.22" textLength="14.5" lengthAdjust="spacingAndGlyphs" >North</text>
<text x="442.7" y="442.2" font-size="5.9" fill="#2a2a2a" text-anchor="start" stroke="#2a2a2a" stroke-width="0.22" textLength="66.8" lengthAdjust="spacingAndGlyphs" >OQ706226|Brazil|Roraima</text>
<text x="442.7" y="448.5" font-size="5.9" fill="#2a2a2a" text-anchor="start" stroke="#2a2a2a" stroke-width="0.22" textLength="14.9" lengthAdjust="spacingAndGlyphs" >North</text>
<text x="440.5" y="458.5" font-size="5.9" fill="#2a2a2a" text-anchor="start" stroke="#2a2a2a" stroke-width="0.22" textLength="66.8" lengthAdjust="spacingAndGlyphs" >OQ706227|Brazil|Roraima</text>
<text x="440.5" y="465.8" font-size="5.9" fill="#2a2a2a" text-anchor="start" stroke="#2a2a2a" stroke-width="0.22" textLength="14.6" lengthAdjust="spacingAndGlyphs" >North</text>
<text x="464.5" y="472.2" font-size="5.9" fill="#2a2a2a" text-anchor="start" stroke="#2a2a2a" stroke-width="0.22" textLength="60.4" lengthAdjust="spacingAndGlyphs" >EPI_ISL_18542103|Brazil</text>
<text x="464.5" y="478" font-size="5.9" fill="#2a2a2a" text-anchor="start" stroke="#2a2a2a" stroke-width="0.22" textLength="51" lengthAdjust="spacingAndGlyphs" >Sao Paulo|Southeast</text>
<text x="465.1" y="501.5" font-size="5.9" fill="#2a2a2a" text-anchor="start" stroke="#2a2a2a" stroke-width="0.22" textLength="47.3" lengthAdjust="spacingAndGlyphs" >EPI_ISL_18699410</text>
<text x="465.1" y="508.7" font-size="5.9" fill="#2a2a2a" text-anchor="start" stroke="#2a2a2a" stroke-width="0.22" textLength="51.8" lengthAdjust="spacingAndGlyphs" >Brazil - Minas Gerais</text>
<text x="465.1" y="515.3" font-size="5.9" fill="#2a2a2a" text-anchor="start" stroke="#2a2a2a" stroke-width="0.22" textLength="29.4" lengthAdjust="spacingAndGlyphs" >2023-11-21</text>
<text x="324.4" y="492.4" font-size="4.6" fill="#444" text-anchor="middle" stroke="#444" stroke-width="0.22" >1.0</text>
<line x1="242" y1="635.3" x2="463.6" y2="635.3" stroke="#8a8a8a" stroke-width="0.8"/>
<line x1="242" y1="633.6" x2="242" y2="637" stroke="#8a8a8a" stroke-width="0.7"/>
<text x="243.5" y="645.6" font-size="7.6" fill="#2a2a2a" text-anchor="middle" stroke="#2a2a2a" stroke-width="0.22" textLength="17" lengthAdjust="spacingAndGlyphs" >2017</text>
<line x1="273.6" y1="633.6" x2="273.6" y2="637" stroke="#8a8a8a" stroke-width="0.7"/>
<text x="275.1" y="645.6" font-size="7.6" fill="#2a2a2a" text-anchor="middle" stroke="#2a2a2a" stroke-width="0.22" textLength="17" lengthAdjust="spacingAndGlyphs" >2018</text>
<line x1="305.2" y1="633.6" x2="305.2" y2="637" stroke="#8a8a8a" stroke-width="0.7"/>
<text x="306.7" y="645.6" font-size="7.6" fill="#2a2a2a" text-anchor="middle" stroke="#2a2a2a" stroke-width="0.22" textLength="17" lengthAdjust="spacingAndGlyphs" >2019</text>
<line x1="336.9" y1="633.6" x2="336.9" y2="637" stroke="#8a8a8a" stroke-width="0.7"/>
<text x="338.4" y="645.6" font-size="7.6" fill="#2a2a2a" text-anchor="middle" stroke="#2a2a2a" stroke-width="0.22" textLength="17" lengthAdjust="spacingAndGlyphs" >2020</text>
<line x1="368.5" y1="633.6" x2="368.5" y2="637" stroke="#8a8a8a" stroke-width="0.7"/>
<text x="370" y="645.6" font-size="7.6" fill="#2a2a2a" text-anchor="middle" stroke="#2a2a2a" stroke-width="0.22" textLength="17" lengthAdjust="spacingAndGlyphs" >2021</text>
<line x1="400.1" y1="633.6" x2="400.1" y2="637" stroke="#8a8a8a" stroke-width="0.7"/>
<text x="401.6" y="645.6" font-size="7.6" fill="#2a2a2a" text-anchor="middle" stroke="#2a2a2a" stroke-width="0.22" textLength="17" lengthAdjust="spacingAndGlyphs" >2022</text>
<line x1="431.7" y1="633.6" x2="431.7" y2="637" stroke="#8a8a8a" stroke-width="0.7"/>
<text x="433.2" y="645.6" font-size="7.6" fill="#2a2a2a" text-anchor="middle" stroke="#2a2a2a" stroke-width="0.22" textLength="17" lengthAdjust="spacingAndGlyphs" >2023</text>
<text x="10.8" y="236.6" font-size="18.8" fill="#111" text-anchor="start" >C</text>
<rect x="167.5" y="375.3" width="37" height="19.3" fill="#f2f2f2"/>
<path d="M135.6 209.5H144.4M136.4 211.2H137M138 216.5H146.4M137.9 218.7H138.7M137.7 217.9H137.9M137.4 221.2H138.3M138 224.1H144.4M137.7 225.9H138.5M137.4 221.2V225.9M137.3 218.5V223.5M137.1 221H137.3M136.3 228.6V229.7M135.9 229.1H136.3M135.6 221.1H135.9M132.5 232.7H144M134.8 234H137.5M135.1 235.4H135.9M135 235.1H135.1M135 239.5H135.8M134.8 239.9H135M134.5 241.8H134.7M134.2 246.6H136.1M134.7 247.7H147.3M134.7 249.3H136.7M132.5 241.1H132.8M127.1 255.1H127.9M127.7 257.6V258.2M126.8 256.8H127M126.7 261H126.8M126.7 262.9H126.8M126.7 264.1H127.5M123.3 251.5V264.8M123.1 271.4V272.4M123 273.1H123.8M122.7 273.3H122.8M122.5 274.1H122.7M122.7 276V276.8M122.5 276.4H122.7M121 272.8H122.1M121 272.8V278.2M122.8 282.3H123M123.1 284.4H131M123 283.4V284.7M122.7 281.6V284.8M121.4 280.4V286.5M120.3 283.5V287M119 280.3H119.9M119 287.9H123.2M119 280.3V287.9M120.7 292.2H120.8M120.7 293.1H138.2M119 293.9H119.8M119 291.1V293.9M120.4 295.5H127.5M120.4 296.1H121.7M120.5 296.6H122.5M119.3 301.4H119.8M119.2 302.3V303.2M119.7 304.4H120.5M119.7 304.4V305.1M118.6 305.2H119M118.6 302.7V305.2M119.8 306.6V307.3M120.3 308H131.1M121.2 310.4V310.8M121.5 314.3H126.1M122.4 316.3V316.9M122.4 317.9H128.4M122.1 318.8H122.9M121.9 318H122.1M121.8 315.9V318.6M121.5 316.2H121.6M121.2 319.6H126.6M121 310.6V316.8M121.2 320.8V321.5M121 320.1V321.2M120.9 313.7V320.7M121.3 322.6H131.4M121.2 322.2V323M121.3 324.4V324.8M120.9 323.4H121M121.8 327H122.6M121.8 328.6H127M122.2 331H123M122.1 330.5V331.3M121.9 330.9H122.1M121.3 327.8H121.5M121.3 331.9H129.2M121.2 329.8H121.3M120.7 317.2V326.9M120.3 308V312.2M120.3 333.1V334M119.4 328.2H119.5M120.1 337.1V338M120.9 340.3H124.5M120.4 340.1H120.6M120.7 343.2H129.6M120.6 344.1H121.4M120.1 343.4V345.9M120 337.6V344.6M119.8 348.9H137.9M119.4 328.2V347.9M119.7 351.1H134.6M117.5 344.8H118.6M117.8 355.4H129M118.1 355.9V356.7M117.8 357.2H118M117.8 359.4H118.6M117.5 358.1H117.7M117.8 361.9H120M117.8 361.2V361.9M117.7 360.5V361.5M117.5 358.1V361M117.2 359.6V363M117.8 364.8H121.2M118 366.1H130M118.3 366.8V367.2M118.1 367V367.9M117.5 365.1H117.7M117.3 366.7H117.5M116.9 368.8V372.1M156 386.6H156.5M156.7 387.3H161.2M156.5 387.9H156.7M157 391.7H159.6M157 390.4V391.7M157.1 393.5H157.9M157 393.8H157.1M156.8 391V393.1M156 389.2H156.5M154.8 396.9H158.2M153.7 391.7V397.1M146.5 404.6H147.8M145.2 404.8H146.2M144 403.3H145.2M142.7 403.1H143.1M129.1 409.3H155M128.6 409V410.3M130.3 411.7H131.3M129.5 412.3H130.3M128.7 413H129.5M129.1 415.3H167.9M128.7 416.4H153M125 415.4H126.4M128.5 420.4H134M131.3 421.4V421.9M129.9 421.6H131.3M130.3 422.3H150.6M133.7 424.1H170.7M133.7 424.7H146.6M132.9 426.6H150.3M132.9 425.2V426.6M128.7 427.4H145.4M128.7 428.2H152.1M133.4 432.8H133.8M134.5 434.3H138.9M134.5 433.7V434.3M132 432.2H132.5M135.7 435H137.3M136 436.2V436.9M136.1 438.3V438.9M135.7 437.3H135.8M135.8 440.2H136M135.7 440.5V441.5M135.7 442.5V442.9M135.5 442.7H135.7M135.5 442.3V442.7M133.2 443.5H137.9M135.3 445.1H162.9M134.8 445H135.3M136.3 446.1V446.6M136.3 447.6H136.4M135.7 449H142.6M135.7 449.7H151.6M133.9 451H142.2M133.4 451.5H139.7M130.1 451.9H137.2M130.1 442.4V451.9M137 210.5H139.6M137 211.8H141.5M137 210.5V211.8M137 212.5H143.8M137.1 213.5H145.4M137.7 214.6H138.5M137.7 215.2H138.5M137.7 214.6V215.2M137.6 214.9H137.7M138 217.6H138.8M138 216.5V217.6M137.9 217.1H138M137.7 219.2H138.5M137.7 217.9V219.2M137.6 218.5H137.7M137.6 214.9V218.5M137.4 216.7H137.6M137.4 220.3H142.5M137.4 216.7V220.3M137.3 218.5H137.4M137.9 222.7H141.8M138 223.7H141.2M138 223.7V224.1M137.9 223.9H138M137.9 222.7V223.9M137.7 223.3H137.9M137.7 223.3V225.9M137.6 224.6H137.7M137.7 226.9H140.1M137.7 226.9V227.6M137.6 227.2H137.7M137.6 224.6V227.2M137.4 225.9H137.6M137.1 213.5V221M137 217.3H137.1M137 212.5V217.3M136.4 214.9H137M135.9 213H136.4M136.3 228.6H137.6M137 229.2H138.2M135.9 213V229.1M135.6 209.5V221.1M133.6 233.2H135.1M135.1 234.7H135.9M135.1 234.7V235.4M135 236.6H135.8M134.8 235.8H135M134.8 234V235.8M134.7 234.9H134.8M134.8 237H139.2M135 237.9H135.8M135 238.8H143.3M134.8 238.3H135M134.8 237V238.3M134.7 237.7H134.8M134.7 234.9V237.7M134.5 236.3H134.7M135 239.5V240.3M135 241.4H136.4M135 242.1H135.8M135 241.4V242.1M134.8 241.8H135M134.8 239.9V241.8M134.7 242.7H135.5M133.6 233.2V239M132.8 236.1H133.6M134.5 244.1H135.3M134.7 244.8H142.3M134.7 244.8V245.3M134.5 245H134.7M134.5 244.1V245M133.7 244.6H134.5M134.7 247H145M134.7 247V247.7M134.5 247.4H134.7M134.7 248.8H137.4M134.7 248.8V249.3M134.5 249H134.7M134.5 247.4V249M134.2 248.2H134.5M134.2 246.6V248.2M133.7 247.4H134.2M133.7 244.6V247.4M132.8 246H133.7M132.8 236.1V246M132.5 232.7V241.1M123.3 251.5H127.1M125.2 252.4H130.8M126.5 252.9H140.9M126.8 253.9H127.6M127.1 254.6V255.1M127 254.9H127.1M127.4 256H135.5M127.6 256.6H128.4M127.7 257.6H128.5M127.7 258.2H128.5M127.6 256.6V257.9M127.4 257.2H127.6M127.4 256V257.2M127.3 259H134M127.3 256.6V259M127.1 257.8H127.3M127.1 259.8H131.4M127.1 257.8V259.8M127 258.8H127.1M126.7 255.4H126.8M126.8 260.3H137.4M127 261.2H127.8M127 262.1H127.8M127 261.2V262.1M126.8 260.3V261.6M126.7 255.4V261M126.5 258.2H126.7M126.3 255.5H126.5M126.8 262.7H128.9M126.8 263.2H135.5M126.8 262.7V263.2M126.7 262.9V264.1M126.5 263.5H126.7M126.7 265.1H131.4M126.7 265.5H130.3M126.7 265.1V265.5M126.5 265.3H126.7M126.5 263.5V265.3M125.2 260H126.3M125.2 252.4V260M124.8 256.2H125.2M125.9 266.5H136.3M125.9 266.5V267.4M124.8 266.9H125.9M124.8 256.2V266.9M124.1 261.6H124.8M124.1 268.1H129.7M124.1 261.6V268.1M122.5 258.2H123.3M122.5 258.2V268.7M122.1 270.3H126.3M123.3 271.1H132.4M123.3 271.1V271.8M123.1 271.4H123.3M123.1 272.4H141M123 271.9V273.1M122.8 272.5H123M122.8 274.1H123.6M122.8 272.5V274.1M122.8 274.6H125.7M122.8 274.6V275.3M122.7 274.9H122.8M122.7 276H123.5M122.7 276.8H126.4M122.5 274.1V276.4M122.1 275.3H122.5M122.1 270.3V275.3M122.5 277H129.5M122.5 278H136.8M122 277.5H122.5M122 278.8H123M122 277.5V278.8M121 278.2H122M119.9 275.5H121M122.1 279.2H126.3M122.5 280H134.6M123 280.5H125.3M123 281.3H127.9M123 280.5V281.3M122.8 280.9H123M123 282H125.8M123 282.6H123.8M122.8 280.9V282.3M123.1 284.4V284.9M123 284.7H123.1M122.8 284H123M122.8 285.6H125.7M122.8 284V285.6M122.5 283.2H122.7M122.5 280V283.2M122.1 281.6H122.5M122.1 279.2V281.6M121.4 280.4H122.1M121.4 286.5H124.5M120.3 283.5H121.4M119.9 285.2H120.3M119.9 275.5V285.2M120.7 289.1H121.6M120.7 289.7H140.6M120.5 289.4H120.7M120.7 290.4H135.8M120.7 291.1H122.1M120.7 290.4V291.1M120.5 289.4V290.8M120.1 290.1H120.5M120.5 291.7H126.2M120.8 292H123.6M120.8 292.5H123.1M120.7 292.2V293.1M120.5 292.7H120.7M120.5 291.7V292.7M120.1 292.2H120.5M120.1 290.1V292.2M119.8 293.7H134.8M119.8 294.2H121M119.8 293.7V294.2M117.9 292.5H119M117.9 295.1H132M117 293.8H117.9M120.4 295.5V296.1M119.2 295.8H120.4M120.8 297.2H121.6M120.8 297.2V297.7M120.7 297.5H120.8M121 298.2H125.6M121 298.7H128.3M121 298.2V298.7M120.8 298.5H121M120.8 299.4H128.8M120.7 298.9H120.8M120.5 298.2H120.7M120.1 297.4H120.5M120.1 299.8H127.9M120.1 297.4V299.8M118.8 297.2H119.2M119.8 301.9H122M119.8 301V301.9M118.8 301.1H119.3M118.8 297.2V301.1M118.1 299.1H118.8M119.2 302.3H122.3M119.5 303H127.3M119.5 303.4H121.3M119.5 303V303.4M119.2 303.2H119.5M120.5 304.5H122.9M120.5 304.2V304.5M119.7 305.1H121M119 305.6H122.1M118.1 304H118.6M118.1 299.1V304M117 301.6H118.1M117 293.8V301.6M120 306.2H126.3M120 306.9H136.8M120 306.2V306.9M119.8 306.6H120M119.8 307.3H135.1M119.7 306.9H119.8M120.4 308.6H124.9M120.7 309.4H122.3M120.7 310H129.2M120.7 309.4V310M120.6 309.7H120.7M121.2 310.4H137.6M121 310.6H121.2M121.6 311.7H122.6M121.6 312.3H122.4M121.6 311.7V312.3M121.8 312.8H122.6M121.8 313.2H137.5M121.6 313H121.8M121.5 313.5H121.6M121.5 312V313.5M121.3 312.7H121.5M121.6 315.2H122.4M121.8 315.9H137.5M122.2 316.6H122.4M122.4 317.6H126.6M122.4 317.6V317.9M122.1 317.2H122.2M122.1 317.2V318.8M121.9 319.2H126.5M121.9 318V319.2M121.8 318.6H121.9M121.6 315.2V317.2M121.5 314.3V316.2M121.3 315.3H121.5M121.3 312.7V315.3M121.2 314H121.3M121.2 314V319.6M121 316.8H121.2M120.9 313.7H121M121 320.1H121.8M121.2 320.8H122M121.2 321.5H122M120.9 320.7H121M120.7 317.2H120.9M121.2 322.2H122M121.3 323.5H142.2M121.2 323H121.3M121.2 323.8H122M121.2 324.6H121.3M121.2 323.8V324.6M121 324.2H121.2M121 322.6V324.2M121.6 326H132.4M121.8 327.4H123.4M121.8 327V327.4M121.6 327.2H121.8M121.6 326V327.2M121.8 328H122.6M121.8 328V328.6M121.8 329H122.6M122.1 330.5H123.1M122.2 331.5H123M122.2 331V331.5M122.1 331.3H122.2M121.9 329.9V330.9M121.8 330.4H121.9M121.8 329V330.4M121.6 329.7H121.8M121.6 328.3V329.7M121.5 329H121.6M121.5 326.6V329M121.2 325.8V329.8M121 327.8H121.2M121 327.8V332.8M120.9 330.3H121M120.9 323.4V330.3M120.7 326.9H120.9M120.6 309.7V322M120.4 315.8H120.6M120.4 308.6V315.8M120.3 312.2H120.4M120.1 310.1H120.3M120.3 333.1H121.1M120.3 334H131.1M120.1 333.6H120.3M120 321.8H120.1M120.3 334.3H127.3M120.3 335H133.1M120.3 334.3V335M120.1 334.6H120.3M120.1 335.7H120.9M120.1 334.6V335.7M120 335.2H120.1M120 321.8V335.2M119.8 336H121M119.8 328.5V336M119.7 332.3H119.8M119.7 306.9V332.3M119.5 319.6H119.7M119.5 319.6V336.8M120.1 337.1H120.9M120.3 337.7V338.3M120.1 338H120.3M120 337.6H120.1M120.9 339.9H128.8M120.9 339.9V340.3M120.7 340.1H120.9M121 340.7H121.8M121 341.5H137M120.9 341.1H121M120.9 341.1V342.1M120.7 341.6H120.9M120.7 340.1V341.6M120.6 340.9H120.7M120.6 339.3V340.9M120.7 342.5H121.5M120.6 342.9H120.7M120.6 343.9H136.6M120.6 342.9V343.9M120.4 340.1V343.4M120.3 341.7H120.4M120.6 344.1V344.8M120.4 344.5H120.6M120.4 345.5H130M120.4 344.5V345.5M120.1 343.4H120.3M120.1 345.9H120.9M120 344.6H120.1M119.8 341.1H120M120 346.6H120.8M120 347.3H127M120 346.6V347.3M119.8 341.1V347M119.7 344H119.8M119.8 347.7H120.9M119.7 348.1H119.8M119.7 344V348.1M119.8 349.6H135.6M119.8 348.9V349.6M119.7 349.3H119.8M119.7 349.3V350.1M119.5 349.7H119.7M119.5 346.1V349.7M118.6 338H119.4M119.7 350.8H120.5M119.7 350.8V351.1M119.5 351H119.7M119.5 352H122.8M119.5 351V352M118.6 351.5H119.5M118.6 338V351.5M118.8 352.4H125.4M118.8 353.3H120M118.3 352.9H118.8M118.3 353.8H120M118.3 352.9V353.8M117.5 353.3H118.3M117.5 344.8V353.3M116.7 355.1H118M118.1 355.9H120.3M118.1 356.7H120.4M118 356.3H118.1M118.3 357.5H121.5M118.3 357.5V358.1M118.1 357.8H118.3M118.1 358.6H118.9M118.1 357.8V358.6M118 358.2H118.1M118 356.3V358.2M117.8 355.4V357.2M117.7 356.3H117.8M117.8 360.2H119.6M117.7 356.3V359.8M117.8 361.2H120.1M117.7 361.5H117.8M117.5 361H117.7M117.5 362.5H137.3M117.5 363.4H122.9M117.5 362.5V363.4M116.7 361.3H117.2M116.7 355.1V361.3M117.8 364H122.4M117.8 364V364.8M117.7 364.4H117.8M117.8 365H123.3M118.3 366.8H119.1M118.3 367.2H119.1M118.1 367H118.3M118 367.4H118.1M118 366.1V367.4M117.8 366.8H118M117.8 365V366.8M117.7 364.4V365.9M117.5 365.1V368.4M117.8 369.8H123.9M117.8 368.9V369.8M117.7 369.3H117.8M117.8 370.2H119.2M117.8 370.2V371.1M117.5 370H117.7M117.5 371.9H134.3M117.5 370V371.9M117.3 371H117.5M117.3 366.7V371M116.9 372.1H118.8M116.2 370.5H116.9M116.2 358.2V370.5M115.5 364.3H116.2M115.5 373H118.2M115.5 364.3V373M114.5 368.6H115.5M114.5 373.8H122.4M114.5 368.6V373.8M153 383.4H164.5M154 384H157.1M154 384.8H157.1M154 384V384.8M153.3 384.4H154M156.5 386.2H174.1M156.5 387.1H159.9M156.7 388.5H157.6M156.7 387.3V388.5M157.1 390.1H159M157.1 390.7H172.9M157.1 390.1V390.7M157 390.4H157.1M156.8 391H157M157.1 394.2H159.6M157.1 393.5V394.2M157 392.4V393.8M156.8 393.1H157M156.7 392.1H156.8M156.7 389.1V392.1M156.5 390.6H156.7M156.5 387.9V390.6M156 386.6V389.2M154.9 387.9H156M156.4 396H173.6M156.4 395V396M154.9 395.5H156.4M154.9 387.9V395.5M153.7 391.7H154.9M154.8 397.4H157M154.8 396.9V397.4M153.7 397.1H154.8M153.3 384.4V394.4M153 389.4H153.3M153 383.4V389.4M143.7 399.2H151.7M143.7 399.9H156.3M143.7 399.2V399.9M142.7 399.6H143.7M143.1 400.8H147.4M145.7 401.6H159.1M145.7 402.1H150.3M145.7 401.6V402.1M146.7 403.1H148.9M146.7 403.4H147.5M146.7 403.1V403.4M146.5 403.3H146.7M146.5 403.3V404.6M146.2 403.9H146.5M146.5 405.1H157.3M146.7 405.5H148.9M146.7 405.5V406.7M146.5 406.1H146.7M146.5 405.1V406.1M146.2 405.6H146.5M146.2 403.9V405.6M145.2 401.9V404.8M144 407.4H147.3M143.1 400.8V405.3M129.9 409H163.6M129.9 408.4V409M129.1 408.7V409.3M128.6 409H129.1M128.6 410.3H142.6M128.2 409.7H128.6M132.5 410.8H138.1M132.5 411.5H134.8M132.5 410.8V411.5M131.3 411.1H132.5M131.3 412.3H134.6M131.3 411.1V412.3M130.3 412.9H133.1M130.3 411.7V412.9M130.3 414.1H135.7M130.3 413.1V414.1M129.5 412.3V413.6M128.7 414.5H133.6M128.7 413V414.5M128.2 413.7H128.7M128.2 409.7V413.7M127.2 411.7H128.2M129.1 415.8H151.4M129.1 415.3V415.8M128.7 415.5H129.1M128.7 415.5V416.4M127.2 416H128.7M126.4 413.8H127.2M126.4 413.8V417M125 415.4V417.5M128 419.1V419.9M131.3 421.4H139.3M131.2 423.1H141.6M132.4 423.6H136.6M133.7 424.1V424.7M133.5 424.4H133.7M133.7 425.7H136.6M133.7 426.4H167.6M133.7 425.7V426.4M133.5 426.1H133.7M133.5 424.4V426.1M132.9 425.2H133.5M132.4 423.6V425.9M131.2 424.8H132.4M131.2 423.1V424.8M130.3 423.9H131.2M130.3 422.3V423.9M129.9 423.1H130.3M129.9 421.6V423.1M128.5 422.4H129.9M128.5 420.4V422.4M128.1 421.4H128.5M128.1 427.8H128.7M128.1 421.4V427.8M127.2 419.5V424.6M126 422H127.2M126 428.7H134.8M126 422V428.7M129.6 430.1H151.3M133.7 430.7H138.4M134.7 431.2H143.8M134.7 431.5H136.1M134.7 431.2V431.5M133.7 431.3H134.7M133.7 430.7V431.3M135.5 432.5H144.4M135.5 432.8H136.6M135.5 432.5V432.8M135.3 431.9V432.6M133.8 432.3H135.3M133.8 433.3H136M133.8 432.3V433.3M134.5 433.7H136.6M133.4 434H134.5M132.5 433.4H133.4M132.5 431V433.4M135.5 434.5H145M135.7 435V435.4M135.5 435.2H135.7M134.2 434.9H135.5M136.1 435.9H137.9M136.1 436.5H137.3M136.1 435.9V436.5M136 436.2H136.1M135.8 436.5H136M136 437.4H142.4M136.4 438H137.8M136.4 437.7V438M136.3 437.9H136.4M136.3 438.7H156.4M136.1 438.3H136.3M136.1 438.9H136.9M136 437.4V438.6M135.8 438H136M135.7 439.4H149.5M135.5 438.3H135.7M136 439.9H149.2M136 440.5H159.4M136 439.9V440.5M135.8 440.7H137.7M135.7 440.5H135.8M135.8 441.2H136.6M135.8 441.8H143M135.8 441.2V441.8M135.5 441H135.7M135.3 439.6H135.5M135.5 442.3H136.3M135.7 442.5H138.8M135.7 442.9H162.1M135.3 442.5H135.5M135.3 439.6V442.5M134.2 441.1H135.3M134.2 434.9V441.1M133.2 438H134.2M133.2 438V443.5M132 440.7H133.2M132 432.2V440.7M131.3 436.5H132M134.3 444.2H144M134.3 444V444.2M133.6 444.1H134.3M135.3 444.8V445.1M136.1 445.5H150.9M136.3 446.1H137.1M136.3 446.6H160.7M136.1 446.3H136.3M136.1 445.5V446.3M136 445.9H136.1M136.4 447.6H145.1M136.4 447.5V447.6M136.3 446.9V447.6M136.1 447.3H136.3M136.1 448.3H136.9M136 447.8H136.1M135.8 446.8H136M135.8 448.7H147.1M135.8 446.8V448.7M135.7 447.8V449M135.7 449.9H140.5M135.7 449.7V449.9M135.5 449.8H135.7M135.5 448.4V449.8M134.8 449.1H135.5M133.6 447H134.8M133.6 444.1V447M132.6 445.6H133.6M133.9 450.4V451M133.4 450.7V451.5M132.6 445.6V451.1M131.3 436.5V448.3M130.1 442.4H131.3M137.9 217.1V218.7M137.7 227.6H139.4M137.3 223.5H137.4M136.4 211.2V214.9M137 230.1H146.5M137 229.2V230.1M136.3 229.7H137M135 235.1V236.6M135 237.9V238.8M135 240.3H135.8M134.7 240.8H134.8M134.7 240.8V242.7M134.5 236.3V241.8M133.6 239H134.5M134.7 245.3H135.5M127.1 254.6H132.5M127.6 257.9H127.7M127.3 256.6H127.4M127 254.9V258.8M126.8 253.9V256.8M126.8 261.6H127M126.5 252.9V258.2M126.3 264.4H126.5M126.3 255.5V264.4M125.9 267.4H128.9M123.3 264.8H124.1M122.5 268.7H127.5M123.3 271.8H126.8M123 271.9H123.1M122.8 275.3H129.2M122.7 273.3V274.9M122.5 277V278M123 282V282.6M122.7 281.6H122.8M123 283.4H124.5M123.1 284.9H128.2M122.7 284.8H122.8M120.3 287H133.7M120.7 289.1V289.7M120.5 290.8H120.7M120.8 292V292.5M119 291.1H120.1M117.9 292.5V295.1M120.8 297.7H123.2M120.8 298.5V299.4M120.7 297.5V298.9M120.5 296.6V298.2M119.2 298.6H120.1M119.2 295.8V298.6M119.3 300.7H134.6M119.8 301H138M119.3 300.7V301.4M118.6 302.7H119.2M120.5 304.2H131.3M119 304.7H119.7M119 304.7V305.6M121.2 310.8H122M121.5 312H121.6M121.8 312.8V313.2M121.6 313.9H122.4M121.6 313V313.9M122.4 316.3H135.1M122.4 316.9H142.1M122.2 317.7H122.4M122.2 316.6V317.7M121.6 317.2H121.8M121 321.2H121.2M121.3 322.6V323.5M121 322.6H121.2M121.3 324.4H128.8M121.3 324.8H131.7M121.2 325.8H122.4M121.5 326.6H121.6M121.6 328.3H121.8M121.9 329.9H131.8M121.3 327.8V331.9M121 332.8H130.3M120.6 322H120.7M120.1 310.1V333.6M119.8 328.5H120M119.5 336.8H121.7M120.3 337.7H121.1M120.3 338.3H137M120.6 339.3H133.3M121 340.7V341.5M120.9 342.1H129.3M120.7 342.5V343.2M120.4 343.4H120.6M120.6 344.8H130.8M120.3 345H120.4M120.3 341.7V345M119.8 347H120M119.8 348.4H122.6M119.8 347.7V348.4M119.5 346.1H119.7M119.7 350.1H121.2M119.4 347.9H119.5M118.8 352.4V353.3M118.3 358.1H122.1M117.8 359.4V360.2M117.7 359.8H117.8M117.7 360.5H132.8M117.2 359.6H117.5M117.2 363H117.5M116.2 358.2H116.7M118.1 367.9H118.9M117.7 365.9H117.8M117.5 368.4H125.2M117.8 368.9H118.6M117.8 371.1H140.7M117.7 370.6H117.8M117.7 369.3V370.6M116.9 368.8H117.3M156.5 386.2V387.1M156.7 389.1H157.5M157 392.4H157.8M156.4 395H173.6M153.3 394.4H153.7M145.2 401.9H145.7M146.7 406.7H161.2M144 403.3V407.4M143.1 405.3H144M142.7 399.6V403.1M129.9 408.4H134M129.1 408.7H129.9M130.3 413.1H145.6M129.5 413.6H130.3M127.2 411.7V416M126.4 417H136.9M125 417.5H158.7M128 419.1H141.4M128 419.9H138.2M127.2 419.5H128M131.3 421.9H169.6M132.4 425.9H132.9M128.7 427.4V428.2M127.2 424.6H128.1M132.5 431H133.7M135.3 431.9H164.2M135.3 432.6H135.5M133.4 432.8V434M135.7 435.4H140.3M135.5 434.5V435.2M136 436.9H136.9M136.4 437.7H155.4M136.3 437.9V438.7M136 438.6H136.1M135.8 436.5V438M135.7 437.3V439.4M135.8 440.2V440.7M135.7 441.5H135.8M135.5 438.3V441M134.3 444H138.2M135.3 444.8H144.8M136.3 446.9H140.3M136.4 447.5H137.2M136.1 447.3V448.3M136 445.9V447.8M135.7 447.8H135.8M135.5 448.4H135.7M134.8 445V449.1M133.9 450.4H136.2M133.4 450.7H133.9M132.6 451.1H133.4M131.3 448.3H132.6M129.6 447.2H130.1M129.6 430.1V447.2M153 385.5H195.5M162.4 373.5V383.4M128 459.5V464.5M158 383.4H162.4M111.7 464.3V464.8M111.3 464.6H111.7M111.3 464.6V465.5M110 466.5H111.6M110 465V466.5M108 465.8H110M111 467.6H119.9M115 468.3H136.1M115.6 468.9H118M115.6 468.9V469.4M115 469.1H115.6M112.5 470.7H135.1M111 467.6V470.1M110.9 472.6H118.6M110.9 471.6V472.6M108 465.8V470.5M75.5 621.8V640M75.5 640H90M75.5 621.8H78.2M78.2 602.7V636M78.2 636H97M78.2 602.7H83.6M83.6 593.6V614.5M83.6 614.5H114.5M83.6 593.6H94.5M94.5 590V600M94.5 590H99M94.5 600H99M99 570V611M99 570H101.8M101.8 506V585.5M101.8 585.5H109M109 488V510M101.8 506H109M109 488H118M118 477V495.5M118 495.5H120M120 494.9H129.4M120 494.3H132.6M120 493.7H132M118 494.5H119M119 494.5H133.6M119 493.6H119.7M119.7 493.6H120.6M119.7 493.3H119.7M119.7 493.3H122.6M119.7 492.4H121M121.9 492.4H136.8M121 491.8V492.4M121 491.8H121.5M121.5 491.8H122.7M122.7 491.2V491.8M122.7 491.2H125.3M123.4 489.4V491.2M123.4 491.2H133.7M122.1 490.2V491.2M122.1 490.2H122.1M122.1 490.2H127M122.1 489.7V490.2M122.1 489.7H123.3M123.3 489.7H126.7M123.3 488.9V489.7M123.4 488.9H126.6M123.4 488.2V488.9M123.4 488.2H123.7M118.4 481H120.4M120.4 479.2V481M120.4 480.4H135.3M120.4 479.8H129.6M120.4 479.2H134.1M118.4 480.2V481M118.4 480.2H118.4M118.4 480.2H133.5M118.4 479.6V480.2M118.4 479.6H119.5M119.5 479.6H121.2M121.2 479.6H123.2M119.7 479.3H122.3M119.7 478.8V479.3M119.7 478.8H120.9M120.9 478.8H122.2M122.2 478.8H126.8M122.2 478.2H127.8M120.9 478.3H121.8M121.8 478.3H126.5M121.8 477.8V478.3M121.8 477.8H122.6M122.6 477.3V477.8M122.6 477.3H122.6M122.6 477.3H123.3M123.3 477.3H124.6M123.3 476.1H124.8M122.6 476.7H123M123 476.2V476.7M123 476.2H124M124 476.2H128.9M124 475.8V476.2M124 475.8H125M125 475.4V475.8M125.3 475.4H133.5M125.3 474.8H126.3M97 637H145M99.5 633.6H103.1M104 633H105.8M103.1 632.6H106.1M106.1 632.6H110M106.1 631.7H108.9M108.9 630.1V631.7M108.9 630.1H111.4M115 628.7H119.1M114 627.4H117.2M117.2 626.2V627.4M119.6 624.9H123M124.5 624.9H156.3M124.5 623.7H150.5M125.9 622.3V623.7M129.2 621.7H131.3M131.3 621.7H136.2M137.5 617.4H140.4M101.3 606.1H101.8M103 605.5V606.1M103 605.5H105.7M101.8 604.4H102.9M102.9 604.4H103.5M103.5 603.2H128.7M108.2 599.8H125M108.2 599.2H127.7M108.2 598.6H127.6M106.2 598.7H107.4M108.3 597.3H125.6M108.9 596.2H109.9M109.9 596.2H116.4M110.1 592.9V594.9M111.7 592.3H115.5M111 591.5V592.9M111 591.5H112.3M112.3 590V591.5M112.6 590H123.6M112.6 588.8V590M115 588.8H126.2M113.2 580.1V581.9M119.8 572.8H122.5M122.5 572.8H152.8M133.3 560.8V562.2M133.3 560.8H134.8M137.1 557V558.6M137.1 557H139.1M139.1 557H141M139.1 554.9V557M148.3 550.7V551.3M102.1 543.9V546M102.1 543.9H102.9M102.9 542.7V543.9M103.1 542.7H105M103.1 541.2H103.6M103.6 540.1V541.2M103.6 540.1H105.1M105.8 539.1H106.7M106.7 537.9H108.4M105.8 537.8V539.1M106.6 537.2H109.2M106.6 536.6H109.9M107 534.5H107.4M107.4 533.3V534.5M108.3 531.9V533.3M110.7 531.9H117M109.7 530.7H129.7M111.7 525.6V527.2M114.3 524.4H115.7M102.8 522.4H106.8M103.9 520.4V521.3M104.9 519.8V520.4M104.4 519.5V520.4M105.8 519.5H107.8M107.1 517H108.1M108.1 515.7V517M108.1 515.7H109.3M110 514.5V515.7M111.5 513.2H129.7M111.9 506.6H113.4M115.8 504.7H117.4M121.5 501.5H140.3M121.5 500.5H124M125 499.9H128.1M124 499.4V500.5M125.4 498.2H126.7M126.7 498.2H133.9M128.2 496.3H130.1M97 635.3V637M97 635.3H99.5M99.5 633.6V635.3M103.1 633.6H104M104 632.4V633.6M104 633.6H106M104 632.4H105.8M108.9 631.7H114.1M111.4 630.1H133.8M111.4 628.7V630.1M111.4 628.7H114M114 628.7H115M115 627.5V628.7M115 628.1H119.3M114 627.4V628.7M117.2 627.4H129.2M117.2 626.2H119.6M119.6 626.2H142.4M119.6 624.9V626.2M123 624.9H124.5M123 623.7V624.9M123 623.7H125.9M125.9 623.7H129.8M125.9 622.3H129.2M129.2 622.3H130.7M129.2 621.7V622.3M131.3 620.3V621.7M131.3 620.3H134.5M134.5 620.3H135.1M135.1 619.7V620.3M135.1 620.3H139.7M135.1 619.7H140.4M134.5 618.8V620.3M134.5 618.8H137.5M137.5 618.8H139M137.5 617.4V618.8M140.4 616.4V617.4M143.4 616.4H144.3M144.3 615.2V616.4M144.3 616.4H145.4M144.3 615.8H145.5M144.3 615.2H145.9M143.4 615.1H146.2M99 611H102.9M99 609.1H99.6M99.6 609.1H120.2M99.6 607.7V609.1M99.6 607.7H101.3M101.3 607.7H103.1M103.1 607.7H119.7M103.1 607.1H120.4M101.3 606.1V607.7M101.8 606.1H103M103 606.1H104.7M103.5 603.2V604.4M103.5 604.4H128.2M103.5 603.8H123.4M102.9 603V604.4M102.9 603H103.7M103.7 603H108.8M103.7 601.8V603M103.7 601.8H105.5M105.5 601.8H108.3M105.5 599.8V601.8M108.2 598V599.8M108.2 598H128.6M106.2 598.7V599.8M107.4 598.7H110.7M107.4 597.3V598.7M108.3 596.2V597.3M109.9 595.6V596.2M109.9 595.6H114.9M108.9 594.9V596.2M108.9 594.9H110.1M110.1 594.9H111.6M110.1 592.9H111M111.7 591.7H116.3M112.3 591.5H117.4M112.3 590H112.6M112.6 588.8H114.3M114.3 588.8H115M115 588.2V588.8M115 588.2H129.4M109 585H150.9M109 581.9H111.3M111.3 581.9H113.2M113.2 581.9H115.5M113.2 581.3H116M113.2 580.7H116.6M113.2 580.1H115.5M111.3 580.2H113.5M113.5 578.7V580.2M113.5 578.7H115.7M115.7 578.7H154.8M115.7 576.1V578.7M118.3 576.1H121.7M118.3 573.9V576.1M118.3 573.9H119.8M119.8 573.9H120.3M120.3 573.9H124M120.3 573.3H123.9M119.8 572.8V573.9M122.5 570.6V572.8M122.5 570.6H124.8M124.8 570.6H127M124.8 568.9V570.6M126.5 568.9H132.1M126.5 566.3V568.9M129.1 566.3H151.3M129.1 564.2V566.3M130.7 564.2H151M130.7 562.2V564.2M130.7 562.2H133.3M133.3 562.2H146.9M134.8 560.8H137.1M134.8 558.6H137.1M138 558H148.8M141.8 552.8V554.9M141.8 552.8H144.2M144.2 552.8H147.2M144.2 551.3H146.4M146.4 551.3H148.3M148.3 550.7H151.5M102.1 546H130M102.9 543.9H106.4M105 540.9V542.7M105 542.7H107M105 542.1H106.8M105 541.5H107.2M105 540.9H107.1M103.1 541.2V542.7M105.1 540V541.2M105.1 541.2H107.7M105.1 540.6H107.5M105.1 540.1H118M105.1 539.1V540.1M105.1 539.1H105.8M106.7 537.3V539.1M106.7 539.1H108.9M106.7 537.3H108.1M105.8 537.8H106M106 537.8H106.6M106.6 537.8H109.9M106 536V537.8M107.4 534.5H109.3M109.3 533.9V534.5M109.3 533.9H110.6M107.4 533.3H108.3M108.3 533.3H111.8M108.3 531.9H109.6M109.6 531.9H110.7M110.7 530.1V531.9M110.7 530.7H120.8M110.7 530.1H117M109.6 530.7V531.9M109.6 530.7H109.7M109.7 529.7V530.7M109.7 529.7H110.6M110.6 529.7H112.2M110.6 528.3V529.7M110.6 528.3H111.1M111.1 528.3H114M111.1 527.2H111.7M111.7 527.2H113.7M111.7 525.6H113.5M113.5 525.6H114.3M114.3 524.4V525.6M101.8 524.5H106.6M101.8 522.4V524.5M101.8 522.4H102.8M102.8 521.3V522.4M102.8 521.3H103.9M103.9 520.4H104.4M104.9 520.4H109.7M104.9 519.8H108.7M104.4 519.5H105.8M105.8 518.2V519.5M105.8 518.2H107.1M107.1 518.2H109.8M108.1 517H116.2M109.3 515.7H110M110 515.7H115.4M110 515.1H113.5M109.3 514.1H110.1M110.1 514.1H115.6M109.4 508.7V510M109.4 508.7H110.7M110.7 508.7H112.7M112.7 508.1V508.7M112.7 508.7H113.9M112.7 508.1H114.4M110.7 507.5V508.7M111.9 506.6V507.5M113.4 506.6H127.9M113.4 505.4V506.6M113.4 505.4H115.8M115.8 505.4H117.7M117.7 505.4H122.8M117.7 504.8H123.7M117.7 504.2H121.3M117.7 503.6H122.6M115.8 504.7V505.4M117.4 504.7H136.8M117.4 503.6V504.7M117.4 503.6H118.9M118.9 502.6V503.6M118.9 502.6H120.3M120.3 502.6H133.1M120.3 501.5H121.5M121.5 500.5V501.5M124 500.5H125M125 499.9V500.5M125 500.5H128M125.4 498.2V499.4M126.7 497.2V498.2M126.7 497.2H128.2M128.2 496.3V497.2M99.5 635.3H136.9M103.1 632.6V633.6M106.1 631.7V632.6M115 627.5H117.8M124.5 623.7V624.9M124.5 624.3H150.5M140.4 617.4H145.8M140.4 616.4H143.4M143.4 615.1V616.4M146.2 615.1H151.6M99 609.1V611M103.1 607.1V607.7M101.8 604.4V606.1M105.5 599.8H106.2M106.2 599.8H108.2M107.4 597.3H108.3M108.3 596.2H108.9M111 592.9H111.7M111.7 591.7V592.9M111.7 592.9H115.2M109 581.9V585M111.3 580.2V581.9M113.5 580.2H119.1M115.7 576.1H118.3M120.3 573.3V573.9M124.8 568.9H126.5M126.5 566.3H129.1M129.1 564.2H130.7M134.8 558.6V560.8M137.1 558.6H138M138 558V558.6M138 558.6H151.3M139.1 554.9H141.8M141.8 554.9H146.2M144.2 551.3V552.8M148.3 551.3H151M102.9 542.7H103.1M103.6 541.2H105.1M105.1 540H107.9M106.7 538.5H108M106.6 536.6V537.8M106 536H107M107 536H124.1M107 534.5V536M109.3 534.5H111.3M110.7 531.3H119.9M111.1 527.2V528.3M114.3 525.6H115.4M114.3 525H115.3M103.9 521.3H129.8M104.4 520.4H104.9M107.1 517V518.2M110 514.5H113.4M109.3 514.1V515.7M110.1 513.2V514.1M110.1 513.2H111.5M111.5 511.9V513.2M111.5 511.9H111.5M111.5 511.9H113.8M109.4 510H112M110.7 507.5H111.9M111.9 507.5H127.6M117.7 503.6V505.4M118.9 503.6H140.8M120.3 501.5V502.6M124 499.4H125.4M125.4 499.4H127.8M128.2 497.2H138.4M130.1 496.3H136.6M146.4 549V553M101.8 507H107M120 493.7V495.5M120 495.5H131.7M118 494.5V495.5M119 493.6V494.5M120.6 493V493.6M120.6 493.6H127.4M120.6 493H127.2M121 492.4H121.9M121.9 491.8H137.8M122.7 491.8H126.4M123.4 490H130.5M123.4 489.4H132.6M123.3 488.9H123.4M120.4 481H132.7M119.5 479.3V479.6M119.5 479.3H119.7M123.3 476.7H124.3M125 475.8H133.5M125 475.4H125.3M119.7 493.3V493.6M119.7 492.4V493.3M121.9 491.8V492.4M121.5 491.2V491.8M121.5 491.2H122.1M122.1 491.2H123.4M123.4 490.6H131.6M123.7 488.2H125.3M121.2 479V479.6M121.2 479H124.1M122.2 478.2V478.8M120.9 478.3V478.8M122.6 477.8H132.2M123.3 475.5V477.3M123.3 475.5H125M122.6 476.7V477.3M123 476.7H125.4M125.3 474.8V475.4M126.3 474.8H128.1" stroke="#d8f4f4" stroke-width="3.4" fill="none" stroke-linecap="round"/>
<path d="M6.7 455V652.4M6.7 455H73.6" stroke="#4a5862" stroke-width="0.9" fill="none"/>
<path d="M6.7 652.4H11.8M11.8 652.4V674.2M11.8 674.2H27.3" stroke="#3a3f44" stroke-width="1.2" fill="none"/>
<path d="M11.8 630V652.4M11.8 630H75.5" stroke="#8a98c8" stroke-width="0.8" fill="none"/>
<path d="M73.6 439V471.3M73.6 439H80.9M73.6 471.3H94.5M80.9 353.6V454M80.9 353.6H103.6M80.9 437.3H122.7M103.6 336.4V372.7M103.6 336.4H107.3M107.3 336.4H107.3M122.7 405V450" stroke="#4f6470" stroke-width="0.8" fill="none"/>
<path d="M80.9 454H104" stroke="#4f6470" stroke-width="0.9" fill="none"/>
<path d="M104 454H112.7" stroke="#6a8a96" stroke-width="0.7" fill="none"/>
<path d="M135.6 209.5H144.4M136.4 211.2H137M138 216.5H146.4M137.9 218.7H138.7M137.7 217.9H137.9M137.4 221.2H138.3M138 224.1H144.4M137.7 225.9H138.5M137.4 221.2V225.9M137.3 218.5V223.5M137.1 221H137.3M136.3 228.6V229.7M135.9 229.1H136.3M135.6 221.1H135.9M132.5 232.7H144M134.8 234H137.5M135.1 235.4H135.9M135 235.1H135.1M135 239.5H135.8M134.8 239.9H135M134.5 241.8H134.7M134.2 246.6H136.1M134.7 247.7H147.3M134.7 249.3H136.7M132.5 241.1H132.8M127.1 255.1H127.9M127.7 257.6V258.2M126.8 256.8H127M126.7 261H126.8M126.7 262.9H126.8M126.7 264.1H127.5M123.3 251.5V264.8M123.1 271.4V272.4M123 273.1H123.8M122.7 273.3H122.8M122.5 274.1H122.7M122.7 276V276.8M122.5 276.4H122.7M121 272.8H122.1M121 272.8V278.2M122.8 282.3H123M123.1 284.4H131M123 283.4V284.7M122.7 281.6V284.8M121.4 280.4V286.5M120.3 283.5V287M119 280.3H119.9M119 287.9H123.2M119 280.3V287.9M120.7 292.2H120.8M120.7 293.1H138.2M119 293.9H119.8M119 291.1V293.9M120.4 295.5H127.5M120.4 296.1H121.7M120.5 296.6H122.5M119.3 301.4H119.8M119.2 302.3V303.2M119.7 304.4H120.5M119.7 304.4V305.1M118.6 305.2H119M118.6 302.7V305.2M119.8 306.6V307.3M120.3 308H131.1M121.2 310.4V310.8M121.5 314.3H126.1M122.4 316.3V316.9M122.4 317.9H128.4M122.1 318.8H122.9M121.9 318H122.1M121.8 315.9V318.6M121.5 316.2H121.6M121.2 319.6H126.6M121 310.6V316.8M121.2 320.8V321.5M121 320.1V321.2M120.9 313.7V320.7M121.3 322.6H131.4M121.2 322.2V323M121.3 324.4V324.8M120.9 323.4H121M121.8 327H122.6M121.8 328.6H127M122.2 331H123M122.1 330.5V331.3M121.9 330.9H122.1M121.3 327.8H121.5M121.3 331.9H129.2M121.2 329.8H121.3M120.7 317.2V326.9M120.3 308V312.2M120.3 333.1V334M119.4 328.2H119.5M120.1 337.1V338M120.9 340.3H124.5M120.4 340.1H120.6M120.7 343.2H129.6M120.6 344.1H121.4M120.1 343.4V345.9M120 337.6V344.6M119.8 348.9H137.9M119.4 328.2V347.9M119.7 351.1H134.6M117.5 344.8H118.6M117.8 355.4H129M118.1 355.9V356.7M117.8 357.2H118M117.8 359.4H118.6M117.5 358.1H117.7M117.8 361.9H120M117.8 361.2V361.9M117.7 360.5V361.5M117.5 358.1V361M117.2 359.6V363M117.8 364.8H121.2M118 366.1H130M118.3 366.8V367.2M118.1 367V367.9M117.5 365.1H117.7M117.3 366.7H117.5M116.9 368.8V372.1M156 386.6H156.5M156.7 387.3H161.2M156.5 387.9H156.7M157 391.7H159.6M157 390.4V391.7M157.1 393.5H157.9M157 393.8H157.1M156.8 391V393.1M156 389.2H156.5M154.8 396.9H158.2M153.7 391.7V397.1M146.5 404.6H147.8M145.2 404.8H146.2M144 403.3H145.2M142.7 403.1H143.1M129.1 409.3H155M128.6 409V410.3M130.3 411.7H131.3M129.5 412.3H130.3M128.7 413H129.5M129.1 415.3H167.9M128.7 416.4H153M125 415.4H126.4M128.5 420.4H134M131.3 421.4V421.9M129.9 421.6H131.3M130.3 422.3H150.6M133.7 424.1H170.7M133.7 424.7H146.6M132.9 426.6H150.3M132.9 425.2V426.6M128.7 427.4H145.4M128.7 428.2H152.1M133.4 432.8H133.8M134.5 434.3H138.9M134.5 433.7V434.3M132 432.2H132.5M135.7 435H137.3M136 436.2V436.9M136.1 438.3V438.9M135.7 437.3H135.8M135.8 440.2H136M135.7 440.5V441.5M135.7 442.5V442.9M135.5 442.7H135.7M135.5 442.3V442.7M133.2 443.5H137.9M135.3 445.1H162.9M134.8 445H135.3M136.3 446.1V446.6M136.3 447.6H136.4M135.7 449H142.6M135.7 449.7H151.6M133.9 451H142.2M133.4 451.5H139.7M130.1 451.9H137.2M130.1 442.4V451.9" stroke="#2a8e98" stroke-width="0.75" fill="none"/>
<path d="M137 210.5H139.6M137 211.8H141.5M137 210.5V211.8M137 212.5H143.8M137.1 213.5H145.4M137.7 214.6H138.5M137.7 215.2H138.5M137.7 214.6V215.2M137.6 214.9H137.7M138 217.6H138.8M138 216.5V217.6M137.9 217.1H138M137.7 219.2H138.5M137.7 217.9V219.2M137.6 218.5H137.7M137.6 214.9V218.5M137.4 216.7H137.6M137.4 220.3H142.5M137.4 216.7V220.3M137.3 218.5H137.4M137.9 222.7H141.8M138 223.7H141.2M138 223.7V224.1M137.9 223.9H138M137.9 222.7V223.9M137.7 223.3H137.9M137.7 223.3V225.9M137.6 224.6H137.7M137.7 226.9H140.1M137.7 226.9V227.6M137.6 227.2H137.7M137.6 224.6V227.2M137.4 225.9H137.6M137.1 213.5V221M137 217.3H137.1M137 212.5V217.3M136.4 214.9H137M135.9 213H136.4M136.3 228.6H137.6M137 229.2H138.2M135.9 213V229.1M135.6 209.5V221.1M133.6 233.2H135.1M135.1 234.7H135.9M135.1 234.7V235.4M135 236.6H135.8M134.8 235.8H135M134.8 234V235.8M134.7 234.9H134.8M134.8 237H139.2M135 237.9H135.8M135 238.8H143.3M134.8 238.3H135M134.8 237V238.3M134.7 237.7H134.8M134.7 234.9V237.7M134.5 236.3H134.7M135 239.5V240.3M135 241.4H136.4M135 242.1H135.8M135 241.4V242.1M134.8 241.8H135M134.8 239.9V241.8M134.7 242.7H135.5M133.6 233.2V239M132.8 236.1H133.6M134.5 244.1H135.3M134.7 244.8H142.3M134.7 244.8V245.3M134.5 245H134.7M134.5 244.1V245M133.7 244.6H134.5M134.7 247H145M134.7 247V247.7M134.5 247.4H134.7M134.7 248.8H137.4M134.7 248.8V249.3M134.5 249H134.7M134.5 247.4V249M134.2 248.2H134.5M134.2 246.6V248.2M133.7 247.4H134.2M133.7 244.6V247.4M132.8 246H133.7M132.8 236.1V246M132.5 232.7V241.1M123.3 251.5H127.1M125.2 252.4H130.8M126.5 252.9H140.9M126.8 253.9H127.6M127.1 254.6V255.1M127 254.9H127.1M127.4 256H135.5M127.6 256.6H128.4M127.7 257.6H128.5M127.7 258.2H128.5M127.6 256.6V257.9M127.4 257.2H127.6M127.4 256V257.2M127.3 259H134M127.3 256.6V259M127.1 257.8H127.3M127.1 259.8H131.4M127.1 257.8V259.8M127 258.8H127.1M126.7 255.4H126.8M126.8 260.3H137.4M127 261.2H127.8M127 262.1H127.8M127 261.2V262.1M126.8 260.3V261.6M126.7 255.4V261M126.5 258.2H126.7M126.3 255.5H126.5M126.8 262.7H128.9M126.8 263.2H135.5M126.8 262.7V263.2M126.7 262.9V264.1M126.5 263.5H126.7M126.7 265.1H131.4M126.7 265.5H130.3M126.7 265.1V265.5M126.5 265.3H126.7M126.5 263.5V265.3M125.2 260H126.3M125.2 252.4V260M124.8 256.2H125.2M125.9 266.5H136.3M125.9 266.5V267.4M124.8 266.9H125.9M124.8 256.2V266.9M124.1 261.6H124.8M124.1 268.1H129.7M124.1 261.6V268.1M122.5 258.2H123.3M122.5 258.2V268.7M122.1 270.3H126.3M123.3 271.1H132.4M123.3 271.1V271.8M123.1 271.4H123.3M123.1 272.4H141M123 271.9V273.1M122.8 272.5H123M122.8 274.1H123.6M122.8 272.5V274.1M122.8 274.6H125.7M122.8 274.6V275.3M122.7 274.9H122.8M122.7 276H123.5M122.7 276.8H126.4M122.5 274.1V276.4M122.1 275.3H122.5M122.1 270.3V275.3M122.5 277H129.5M122.5 278H136.8M122 277.5H122.5M122 278.8H123M122 277.5V278.8M121 278.2H122M119.9 275.5H121M122.1 279.2H126.3M122.5 280H134.6M123 280.5H125.3M123 281.3H127.9M123 280.5V281.3M122.8 280.9H123M123 282H125.8M123 282.6H123.8M122.8 280.9V282.3M123.1 284.4V284.9M123 284.7H123.1M122.8 284H123M122.8 285.6H125.7M122.8 284V285.6M122.5 283.2H122.7M122.5 280V283.2M122.1 281.6H122.5M122.1 279.2V281.6M121.4 280.4H122.1M121.4 286.5H124.5M120.3 283.5H121.4M119.9 285.2H120.3M119.9 275.5V285.2M120.7 289.1H121.6M120.7 289.7H140.6M120.5 289.4H120.7M120.7 290.4H135.8M120.7 291.1H122.1M120.7 290.4V291.1M120.5 289.4V290.8M120.1 290.1H120.5M120.5 291.7H126.2M120.8 292H123.6M120.8 292.5H123.1M120.7 292.2V293.1M120.5 292.7H120.7M120.5 291.7V292.7M120.1 292.2H120.5M120.1 290.1V292.2M119.8 293.7H134.8M119.8 294.2H121M119.8 293.7V294.2M117.9 292.5H119M117.9 295.1H132M117 293.8H117.9M120.4 295.5V296.1M119.2 295.8H120.4M120.8 297.2H121.6M120.8 297.2V297.7M120.7 297.5H120.8M121 298.2H125.6M121 298.7H128.3M121 298.2V298.7M120.8 298.5H121M120.8 299.4H128.8M120.7 298.9H120.8M120.5 298.2H120.7M120.1 297.4H120.5M120.1 299.8H127.9M120.1 297.4V299.8M118.8 297.2H119.2M119.8 301.9H122M119.8 301V301.9M118.8 301.1H119.3M118.8 297.2V301.1M118.1 299.1H118.8M119.2 302.3H122.3M119.5 303H127.3M119.5 303.4H121.3M119.5 303V303.4M119.2 303.2H119.5M120.5 304.5H122.9M120.5 304.2V304.5M119.7 305.1H121M119 305.6H122.1M118.1 304H118.6M118.1 299.1V304M117 301.6H118.1M117 293.8V301.6M120 306.2H126.3M120 306.9H136.8M120 306.2V306.9M119.8 306.6H120M119.8 307.3H135.1M119.7 306.9H119.8M120.4 308.6H124.9M120.7 309.4H122.3M120.7 310H129.2M120.7 309.4V310M120.6 309.7H120.7M121.2 310.4H137.6M121 310.6H121.2M121.6 311.7H122.6M121.6 312.3H122.4M121.6 311.7V312.3M121.8 312.8H122.6M121.8 313.2H137.5M121.6 313H121.8M121.5 313.5H121.6M121.5 312V313.5M121.3 312.7H121.5M121.6 315.2H122.4M121.8 315.9H137.5M122.2 316.6H122.4M122.4 317.6H126.6M122.4 317.6V317.9M122.1 317.2H122.2M122.1 317.2V318.8M121.9 319.2H126.5M121.9 318V319.2M121.8 318.6H121.9M121.6 315.2V317.2M121.5 314.3V316.2M121.3 315.3H121.5M121.3 312.7V315.3M121.2 314H121.3M121.2 314V319.6M121 316.8H121.2M120.9 313.7H121M121 320.1H121.8M121.2 320.8H122M121.2 321.5H122M120.9 320.7H121M120.7 317.2H120.9M121.2 322.2H122M121.3 323.5H142.2M121.2 323H121.3M121.2 323.8H122M121.2 324.6H121.3M121.2 323.8V324.6M121 324.2H121.2M121 322.6V324.2M121.6 326H132.4M121.8 327.4H123.4M121.8 327V327.4M121.6 327.2H121.8M121.6 326V327.2M121.8 328H122.6M121.8 328V328.6M121.8 329H122.6M122.1 330.5H123.1M122.2 331.5H123M122.2 331V331.5M122.1 331.3H122.2M121.9 329.9V330.9M121.8 330.4H121.9M121.8 329V330.4M121.6 329.7H121.8M121.6 328.3V329.7M121.5 329H121.6M121.5 326.6V329M121.2 325.8V329.8M121 327.8H121.2M121 327.8V332.8M120.9 330.3H121M120.9 323.4V330.3M120.7 326.9H120.9M120.6 309.7V322M120.4 315.8H120.6M120.4 308.6V315.8M120.3 312.2H120.4M120.1 310.1H120.3M120.3 333.1H121.1M120.3 334H131.1M120.1 333.6H120.3M120 321.8H120.1M120.3 334.3H127.3M120.3 335H133.1M120.3 334.3V335M120.1 334.6H120.3M120.1 335.7H120.9M120.1 334.6V335.7M120 335.2H120.1M120 321.8V335.2M119.8 336H121M119.8 328.5V336M119.7 332.3H119.8M119.7 306.9V332.3M119.5 319.6H119.7M119.5 319.6V336.8M120.1 337.1H120.9M120.3 337.7V338.3M120.1 338H120.3M120 337.6H120.1M120.9 339.9H128.8M120.9 339.9V340.3M120.7 340.1H120.9M121 340.7H121.8M121 341.5H137M120.9 341.1H121M120.9 341.1V342.1M120.7 341.6H120.9M120.7 340.1V341.6M120.6 340.9H120.7M120.6 339.3V340.9M120.7 342.5H121.5M120.6 342.9H120.7M120.6 343.9H136.6M120.6 342.9V343.9M120.4 340.1V343.4M120.3 341.7H120.4M120.6 344.1V344.8M120.4 344.5H120.6M120.4 345.5H130M120.4 344.5V345.5M120.1 343.4H120.3M120.1 345.9H120.9M120 344.6H120.1M119.8 341.1H120M120 346.6H120.8M120 347.3H127M120 346.6V347.3M119.8 341.1V347M119.7 344H119.8M119.8 347.7H120.9M119.7 348.1H119.8M119.7 344V348.1M119.8 349.6H135.6M119.8 348.9V349.6M119.7 349.3H119.8M119.7 349.3V350.1M119.5 349.7H119.7M119.5 346.1V349.7M118.6 338H119.4M119.7 350.8H120.5M119.7 350.8V351.1M119.5 351H119.7M119.5 352H122.8M119.5 351V352M118.6 351.5H119.5M118.6 338V351.5M118.8 352.4H125.4M118.8 353.3H120M118.3 352.9H118.8M118.3 353.8H120M118.3 352.9V353.8M117.5 353.3H118.3M117.5 344.8V353.3M116.7 355.1H118M118.1 355.9H120.3M118.1 356.7H120.4M118 356.3H118.1M118.3 357.5H121.5M118.3 357.5V358.1M118.1 357.8H118.3M118.1 358.6H118.9M118.1 357.8V358.6M118 358.2H118.1M118 356.3V358.2M117.8 355.4V357.2M117.7 356.3H117.8M117.8 360.2H119.6M117.7 356.3V359.8M117.8 361.2H120.1M117.7 361.5H117.8M117.5 361H117.7M117.5 362.5H137.3M117.5 363.4H122.9M117.5 362.5V363.4M116.7 361.3H117.2M116.7 355.1V361.3M117.8 364H122.4M117.8 364V364.8M117.7 364.4H117.8M117.8 365H123.3M118.3 366.8H119.1M118.3 367.2H119.1M118.1 367H118.3M118 367.4H118.1M118 366.1V367.4M117.8 366.8H118M117.8 365V366.8M117.7 364.4V365.9M117.5 365.1V368.4M117.8 369.8H123.9M117.8 368.9V369.8M117.7 369.3H117.8M117.8 370.2H119.2M117.8 370.2V371.1M117.5 370H117.7M117.5 371.9H134.3M117.5 370V371.9M117.3 371H117.5M117.3 366.7V371M116.9 372.1H118.8M116.2 370.5H116.9M116.2 358.2V370.5M115.5 364.3H116.2M115.5 373H118.2M115.5 364.3V373M114.5 368.6H115.5M114.5 373.8H122.4M114.5 368.6V373.8M153 383.4H164.5M154 384H157.1M154 384.8H157.1M154 384V384.8M153.3 384.4H154M156.5 386.2H174.1M156.5 387.1H159.9M156.7 388.5H157.6M156.7 387.3V388.5M157.1 390.1H159M157.1 390.7H172.9M157.1 390.1V390.7M157 390.4H157.1M156.8 391H157M157.1 394.2H159.6M157.1 393.5V394.2M157 392.4V393.8M156.8 393.1H157M156.7 392.1H156.8M156.7 389.1V392.1M156.5 390.6H156.7M156.5 387.9V390.6M156 386.6V389.2M154.9 387.9H156M156.4 396H173.6M156.4 395V396M154.9 395.5H156.4M154.9 387.9V395.5M153.7 391.7H154.9M154.8 397.4H157M154.8 396.9V397.4M153.7 397.1H154.8M153.3 384.4V394.4M153 389.4H153.3M153 383.4V389.4M143.7 399.2H151.7M143.7 399.9H156.3M143.7 399.2V399.9M142.7 399.6H143.7M143.1 400.8H147.4M145.7 401.6H159.1M145.7 402.1H150.3M145.7 401.6V402.1M146.7 403.1H148.9M146.7 403.4H147.5M146.7 403.1V403.4M146.5 403.3H146.7M146.5 403.3V404.6M146.2 403.9H146.5M146.5 405.1H157.3M146.7 405.5H148.9M146.7 405.5V406.7M146.5 406.1H146.7M146.5 405.1V406.1M146.2 405.6H146.5M146.2 403.9V405.6M145.2 401.9V404.8M144 407.4H147.3M143.1 400.8V405.3M129.9 409H163.6M129.9 408.4V409M129.1 408.7V409.3M128.6 409H129.1M128.6 410.3H142.6M128.2 409.7H128.6M132.5 410.8H138.1M132.5 411.5H134.8M132.5 410.8V411.5M131.3 411.1H132.5M131.3 412.3H134.6M131.3 411.1V412.3M130.3 412.9H133.1M130.3 411.7V412.9M130.3 414.1H135.7M130.3 413.1V414.1M129.5 412.3V413.6M128.7 414.5H133.6M128.7 413V414.5M128.2 413.7H128.7M128.2 409.7V413.7M127.2 411.7H128.2M129.1 415.8H151.4M129.1 415.3V415.8M128.7 415.5H129.1M128.7 415.5V416.4M127.2 416H128.7M126.4 413.8H127.2M126.4 413.8V417M125 415.4V417.5M128 419.1V419.9M131.3 421.4H139.3M131.2 423.1H141.6M132.4 423.6H136.6M133.7 424.1V424.7M133.5 424.4H133.7M133.7 425.7H136.6M133.7 426.4H167.6M133.7 425.7V426.4M133.5 426.1H133.7M133.5 424.4V426.1M132.9 425.2H133.5M132.4 423.6V425.9M131.2 424.8H132.4M131.2 423.1V424.8M130.3 423.9H131.2M130.3 422.3V423.9M129.9 423.1H130.3M129.9 421.6V423.1M128.5 422.4H129.9M128.5 420.4V422.4M128.1 421.4H128.5M128.1 427.8H128.7M128.1 421.4V427.8M127.2 419.5V424.6M126 422H127.2M126 428.7H134.8M126 422V428.7M129.6 430.1H151.3M133.7 430.7H138.4M134.7 431.2H143.8M134.7 431.5H136.1M134.7 431.2V431.5M133.7 431.3H134.7M133.7 430.7V431.3M135.5 432.5H144.4M135.5 432.8H136.6M135.5 432.5V432.8M135.3 431.9V432.6M133.8 432.3H135.3M133.8 433.3H136M133.8 432.3V433.3M134.5 433.7H136.6M133.4 434H134.5M132.5 433.4H133.4M132.5 431V433.4M135.5 434.5H145M135.7 435V435.4M135.5 435.2H135.7M134.2 434.9H135.5M136.1 435.9H137.9M136.1 436.5H137.3M136.1 435.9V436.5M136 436.2H136.1M135.8 436.5H136M136 437.4H142.4M136.4 438H137.8M136.4 437.7V438M136.3 437.9H136.4M136.3 438.7H156.4M136.1 438.3H136.3M136.1 438.9H136.9M136 437.4V438.6M135.8 438H136M135.7 439.4H149.5M135.5 438.3H135.7M136 439.9H149.2M136 440.5H159.4M136 439.9V440.5M135.8 440.7H137.7M135.7 440.5H135.8M135.8 441.2H136.6M135.8 441.8H143M135.8 441.2V441.8M135.5 441H135.7M135.3 439.6H135.5M135.5 442.3H136.3M135.7 442.5H138.8M135.7 442.9H162.1M135.3 442.5H135.5M135.3 439.6V442.5M134.2 441.1H135.3M134.2 434.9V441.1M133.2 438H134.2M133.2 438V443.5M132 440.7H133.2M132 432.2V440.7M131.3 436.5H132M134.3 444.2H144M134.3 444V444.2M133.6 444.1H134.3M135.3 444.8V445.1M136.1 445.5H150.9M136.3 446.1H137.1M136.3 446.6H160.7M136.1 446.3H136.3M136.1 445.5V446.3M136 445.9H136.1M136.4 447.6H145.1M136.4 447.5V447.6M136.3 446.9V447.6M136.1 447.3H136.3M136.1 448.3H136.9M136 447.8H136.1M135.8 446.8H136M135.8 448.7H147.1M135.8 446.8V448.7M135.7 447.8V449M135.7 449.9H140.5M135.7 449.7V449.9M135.5 449.8H135.7M135.5 448.4V449.8M134.8 449.1H135.5M133.6 447H134.8M133.6 444.1V447M132.6 445.6H133.6M133.9 450.4V451M133.4 450.7V451.5M132.6 445.6V451.1M131.3 436.5V448.3M130.1 442.4H131.3" stroke="#1a5263" stroke-width="0.75" fill="none"/>
<path d="M137.9 217.1V218.7M137.7 227.6H139.4M137.3 223.5H137.4M136.4 211.2V214.9M137 230.1H146.5M137 229.2V230.1M136.3 229.7H137M135 235.1V236.6M135 237.9V238.8M135 240.3H135.8M134.7 240.8H134.8M134.7 240.8V242.7M134.5 236.3V241.8M133.6 239H134.5M134.7 245.3H135.5M127.1 254.6H132.5M127.6 257.9H127.7M127.3 256.6H127.4M127 254.9V258.8M126.8 253.9V256.8M126.8 261.6H127M126.5 252.9V258.2M126.3 264.4H126.5M126.3 255.5V264.4M125.9 267.4H128.9M123.3 264.8H124.1M122.5 268.7H127.5M123.3 271.8H126.8M123 271.9H123.1M122.8 275.3H129.2M122.7 273.3V274.9M122.5 277V278M123 282V282.6M122.7 281.6H122.8M123 283.4H124.5M123.1 284.9H128.2M122.7 284.8H122.8M120.3 287H133.7M120.7 289.1V289.7M120.5 290.8H120.7M120.8 292V292.5M119 291.1H120.1M117.9 292.5V295.1M120.8 297.7H123.2M120.8 298.5V299.4M120.7 297.5V298.9M120.5 296.6V298.2M119.2 298.6H120.1M119.2 295.8V298.6M119.3 300.7H134.6M119.8 301H138M119.3 300.7V301.4M118.6 302.7H119.2M120.5 304.2H131.3M119 304.7H119.7M119 304.7V305.6M121.2 310.8H122M121.5 312H121.6M121.8 312.8V313.2M121.6 313.9H122.4M121.6 313V313.9M122.4 316.3H135.1M122.4 316.9H142.1M122.2 317.7H122.4M122.2 316.6V317.7M121.6 317.2H121.8M121 321.2H121.2M121.3 322.6V323.5M121 322.6H121.2M121.3 324.4H128.8M121.3 324.8H131.7M121.2 325.8H122.4M121.5 326.6H121.6M121.6 328.3H121.8M121.9 329.9H131.8M121.3 327.8V331.9M121 332.8H130.3M120.6 322H120.7M120.1 310.1V333.6M119.8 328.5H120M119.5 336.8H121.7M120.3 337.7H121.1M120.3 338.3H137M120.6 339.3H133.3M121 340.7V341.5M120.9 342.1H129.3M120.7 342.5V343.2M120.4 343.4H120.6M120.6 344.8H130.8M120.3 345H120.4M120.3 341.7V345M119.8 347H120M119.8 348.4H122.6M119.8 347.7V348.4M119.5 346.1H119.7M119.7 350.1H121.2M119.4 347.9H119.5M118.8 352.4V353.3M118.3 358.1H122.1M117.8 359.4V360.2M117.7 359.8H117.8M117.7 360.5H132.8M117.2 359.6H117.5M117.2 363H117.5M116.2 358.2H116.7M118.1 367.9H118.9M117.7 365.9H117.8M117.5 368.4H125.2M117.8 368.9H118.6M117.8 371.1H140.7M117.7 370.6H117.8M117.7 369.3V370.6M116.9 368.8H117.3M156.5 386.2V387.1M156.7 389.1H157.5M157 392.4H157.8M156.4 395H173.6M153.3 394.4H153.7M145.2 401.9H145.7M146.7 406.7H161.2M144 403.3V407.4M143.1 405.3H144M142.7 399.6V403.1M129.9 408.4H134M129.1 408.7H129.9M130.3 413.1H145.6M129.5 413.6H130.3M127.2 411.7V416M126.4 417H136.9M125 417.5H158.7M128 419.1H141.4M128 419.9H138.2M127.2 419.5H128M131.3 421.9H169.6M132.4 425.9H132.9M128.7 427.4V428.2M127.2 424.6H128.1M132.5 431H133.7M135.3 431.9H164.2M135.3 432.6H135.5M133.4 432.8V434M135.7 435.4H140.3M135.5 434.5V435.2M136 436.9H136.9M136.4 437.7H155.4M136.3 437.9V438.7M136 438.6H136.1M135.8 436.5V438M135.7 437.3V439.4M135.8 440.2V440.7M135.7 441.5H135.8M135.5 438.3V441M134.3 444H138.2M135.3 444.8H144.8M136.3 446.9H140.3M136.4 447.5H137.2M136.1 447.3V448.3M136 445.9V447.8M135.7 447.8H135.8M135.5 448.4H135.7M134.8 445V449.1M133.9 450.4H136.2M133.4 450.7H133.9M132.6 451.1H133.4M131.3 448.3H132.6M129.6 447.2H130.1M129.6 430.1V447.2" stroke="#275a6c" stroke-width="0.75" fill="none"/>
<path d="M131.3 215.3H135.6M131.3 236.9H132.5M131.3 215.3V236.9M120.4 226.1H131.3M120.4 263.4H122.5M120.4 226.1V263.4M117.2 244.7H120.4M117.2 284.1H119M117.2 244.7V284.1M112.8 264.4H117.2M112.8 297.7H117M112.8 264.4V297.7M107.3 281.1H112.8M107.3 349H117.5M107.3 281.1V349M103.6 315.1H107.3M103.6 371.2H114.5M103.6 315.1V371.2M142.7 386.4V401.3M142.7 386.4H153M142.7 401.3H142.7M138 393.9V416.5M138 393.9H142.7M125 416.5H138M122.7 416.5H125M122.7 425.4H126M122.7 438.6H129.6M122.7 405.2H138M94.5 469V473.6M94.5 469H108M94.5 473.6H108M108 469V473.6" stroke="#4f6470" stroke-width="0.7" fill="none"/>
<path d="M153 385.5H195.5" stroke="#1a5263" stroke-width="0.7" fill="none"/>
<path d="M162.4 373.5V383.4M128 459.5V464.5" stroke="#1a5263" stroke-width="0.9" fill="none"/>
<path d="M158 383.4H162.4" stroke="#1a5263" stroke-width="0.6" fill="none"/>
<path d="M111.7 464.3H132.2M111.7 464.8H119.3M111.3 465.5H118.3M110 465H111.3M111.6 466.3H140.6M111.6 466.7H128.9M111.6 466.3V466.7M115.6 469.4H119.4M115 468.3V469.1M114 468.7H115M114 470.3H118.9M114 468.7V470.3M112.5 469.5H114M112.5 469.5V470.7M111 470.1H112.5M109.1 468.8H111M112.3 471.4H125.2M112.3 471.8H118.4M112.3 471.4V471.8M110.9 471.6H112.3M109.1 472.1H110.9M109.1 468.8V472.1M108 470.5H109.1" stroke="#4a7fb0" stroke-width="0.55" fill="none"/>
<path d="M111.7 464.3V464.8M111.3 464.6H111.7M111.3 464.6V465.5M110 466.5H111.6M110 465V466.5M108 465.8H110M111 467.6H119.9M115 468.3H136.1M115.6 468.9H118M115.6 468.9V469.4M115 469.1H115.6M112.5 470.7H135.1M111 467.6V470.1M110.9 472.6H118.6M110.9 471.6V472.6M108 465.8V470.5" stroke="#1a5263" stroke-width="0.55" fill="none"/>
<path d="M11.8 630H75.5" stroke="#8a98c8" stroke-width="0.7" fill="none"/>
<path d="M75.5 621.8V640M75.5 640H90M75.5 621.8H78.2M78.2 602.7V636M78.2 636H97M78.2 602.7H83.6M83.6 593.6V614.5M83.6 614.5H114.5M83.6 593.6H94.5M94.5 590V600M94.5 590H99M94.5 600H99M99 570V611M99 570H101.8M101.8 506V585.5M101.8 585.5H109M109 488V510M101.8 506H109M109 488H118M118 477V495.5M118 495.5H120M120 494.9H129.4M120 494.3H132.6M120 493.7H132M118 494.5H119M119 494.5H133.6M119 493.6H119.7M119.7 493.6H120.6M119.7 493.3H119.7M119.7 493.3H122.6M119.7 492.4H121M121.9 492.4H136.8M121 491.8V492.4M121 491.8H121.5M121.5 491.8H122.7M122.7 491.2V491.8M122.7 491.2H125.3M123.4 489.4V491.2M123.4 491.2H133.7M122.1 490.2V491.2M122.1 490.2H122.1M122.1 490.2H127M122.1 489.7V490.2M122.1 489.7H123.3M123.3 489.7H126.7M123.3 488.9V489.7M123.4 488.9H126.6M123.4 488.2V488.9M123.4 488.2H123.7M118.4 481H120.4M120.4 479.2V481M120.4 480.4H135.3M120.4 479.8H129.6M120.4 479.2H134.1M118.4 480.2V481M118.4 480.2H118.4M118.4 480.2H133.5M118.4 479.6V480.2M118.4 479.6H119.5M119.5 479.6H121.2M121.2 479.6H123.2M119.7 479.3H122.3M119.7 478.8V479.3M119.7 478.8H120.9M120.9 478.8H122.2M122.2 478.8H126.8M122.2 478.2H127.8M120.9 478.3H121.8M121.8 478.3H126.5M121.8 477.8V478.3M121.8 477.8H122.6M122.6 477.3V477.8M122.6 477.3H122.6M122.6 477.3H123.3M123.3 477.3H124.6M123.3 476.1H124.8M122.6 476.7H123M123 476.2V476.7M123 476.2H124M124 476.2H128.9M124 475.8V476.2M124 475.8H125M125 475.4V475.8M125.3 475.4H133.5M125.3 474.8H126.3" stroke="#6783c6" stroke-width="0.7" fill="none"/>
<path d="M97 637H145M99.5 633.6H103.1M104 633H105.8M103.1 632.6H106.1M106.1 632.6H110M106.1 631.7H108.9M108.9 630.1V631.7M108.9 630.1H111.4M115 628.7H119.1M114 627.4H117.2M117.2 626.2V627.4M119.6 624.9H123M124.5 624.9H156.3M124.5 623.7H150.5M125.9 622.3V623.7M129.2 621.7H131.3M131.3 621.7H136.2M137.5 617.4H140.4M101.3 606.1H101.8M103 605.5V606.1M103 605.5H105.7M101.8 604.4H102.9M102.9 604.4H103.5M103.5 603.2H128.7M108.2 599.8H125M108.2 599.2H127.7M108.2 598.6H127.6M106.2 598.7H107.4M108.3 597.3H125.6M108.9 596.2H109.9M109.9 596.2H116.4M110.1 592.9V594.9M111.7 592.3H115.5M111 591.5V592.9M111 591.5H112.3M112.3 590V591.5M112.6 590H123.6M112.6 588.8V590M115 588.8H126.2M113.2 580.1V581.9M119.8 572.8H122.5M122.5 572.8H152.8M133.3 560.8V562.2M133.3 560.8H134.8M137.1 557V558.6M137.1 557H139.1M139.1 557H141M139.1 554.9V557M148.3 550.7V551.3M102.1 543.9V546M102.1 543.9H102.9M102.9 542.7V543.9M103.1 542.7H105M103.1 541.2H103.6M103.6 540.1V541.2M103.6 540.1H105.1M105.8 539.1H106.7M106.7 537.9H108.4M105.8 537.8V539.1M106.6 537.2H109.2M106.6 536.6H109.9M107 534.5H107.4M107.4 533.3V534.5M108.3 531.9V533.3M110.7 531.9H117M109.7 530.7H129.7M111.7 525.6V527.2M114.3 524.4H115.7M102.8 522.4H106.8M103.9 520.4V521.3M104.9 519.8V520.4M104.4 519.5V520.4M105.8 519.5H107.8M107.1 517H108.1M108.1 515.7V517M108.1 515.7H109.3M110 514.5V515.7M111.5 513.2H129.7M111.9 506.6H113.4M115.8 504.7H117.4M121.5 501.5H140.3M121.5 500.5H124M125 499.9H128.1M124 499.4V500.5M125.4 498.2H126.7M126.7 498.2H133.9M128.2 496.3H130.1" stroke="#5673ba" stroke-width="0.6" fill="none"/>
<path d="M97 635.3V637M97 635.3H99.5M99.5 633.6V635.3M103.1 633.6H104M104 632.4V633.6M104 633.6H106M104 632.4H105.8M108.9 631.7H114.1M111.4 630.1H133.8M111.4 628.7V630.1M111.4 628.7H114M114 628.7H115M115 627.5V628.7M115 628.1H119.3M114 627.4V628.7M117.2 627.4H129.2M117.2 626.2H119.6M119.6 626.2H142.4M119.6 624.9V626.2M123 624.9H124.5M123 623.7V624.9M123 623.7H125.9M125.9 623.7H129.8M125.9 622.3H129.2M129.2 622.3H130.7M129.2 621.7V622.3M131.3 620.3V621.7M131.3 620.3H134.5M134.5 620.3H135.1M135.1 619.7V620.3M135.1 620.3H139.7M135.1 619.7H140.4M134.5 618.8V620.3M134.5 618.8H137.5M137.5 618.8H139M137.5 617.4V618.8M140.4 616.4V617.4M143.4 616.4H144.3M144.3 615.2V616.4M144.3 616.4H145.4M144.3 615.8H145.5M144.3 615.2H145.9M143.4 615.1H146.2M99 611H102.9M99 609.1H99.6M99.6 609.1H120.2M99.6 607.7V609.1M99.6 607.7H101.3M101.3 607.7H103.1M103.1 607.7H119.7M103.1 607.1H120.4M101.3 606.1V607.7M101.8 606.1H103M103 606.1H104.7M103.5 603.2V604.4M103.5 604.4H128.2M103.5 603.8H123.4M102.9 603V604.4M102.9 603H103.7M103.7 603H108.8M103.7 601.8V603M103.7 601.8H105.5M105.5 601.8H108.3M105.5 599.8V601.8M108.2 598V599.8M108.2 598H128.6M106.2 598.7V599.8M107.4 598.7H110.7M107.4 597.3V598.7M108.3 596.2V597.3M109.9 595.6V596.2M109.9 595.6H114.9M108.9 594.9V596.2M108.9 594.9H110.1M110.1 594.9H111.6M110.1 592.9H111M111.7 591.7H116.3M112.3 591.5H117.4M112.3 590H112.6M112.6 588.8H114.3M114.3 588.8H115M115 588.2V588.8M115 588.2H129.4M109 585H150.9M109 581.9H111.3M111.3 581.9H113.2M113.2 581.9H115.5M113.2 581.3H116M113.2 580.7H116.6M113.2 580.1H115.5M111.3 580.2H113.5M113.5 578.7V580.2M113.5 578.7H115.7M115.7 578.7H154.8M115.7 576.1V578.7M118.3 576.1H121.7M118.3 573.9V576.1M118.3 573.9H119.8M119.8 573.9H120.3M120.3 573.9H124M120.3 573.3H123.9M119.8 572.8V573.9M122.5 570.6V572.8M122.5 570.6H124.8M124.8 570.6H127M124.8 568.9V570.6M126.5 568.9H132.1M126.5 566.3V568.9M129.1 566.3H151.3M129.1 564.2V566.3M130.7 564.2H151M130.7 562.2V564.2M130.7 562.2H133.3M133.3 562.2H146.9M134.8 560.8H137.1M134.8 558.6H137.1M138 558H148.8M141.8 552.8V554.9M141.8 552.8H144.2M144.2 552.8H147.2M144.2 551.3H146.4M146.4 551.3H148.3M148.3 550.7H151.5M102.1 546H130M102.9 543.9H106.4M105 540.9V542.7M105 542.7H107M105 542.1H106.8M105 541.5H107.2M105 540.9H107.1M103.1 541.2V542.7M105.1 540V541.2M105.1 541.2H107.7M105.1 540.6H107.5M105.1 540.1H118M105.1 539.1V540.1M105.1 539.1H105.8M106.7 537.3V539.1M106.7 539.1H108.9M106.7 537.3H108.1M105.8 537.8H106M106 537.8H106.6M106.6 537.8H109.9M106 536V537.8M107.4 534.5H109.3M109.3 533.9V534.5M109.3 533.9H110.6M107.4 533.3H108.3M108.3 533.3H111.8M108.3 531.9H109.6M109.6 531.9H110.7M110.7 530.1V531.9M110.7 530.7H120.8M110.7 530.1H117M109.6 530.7V531.9M109.6 530.7H109.7M109.7 529.7V530.7M109.7 529.7H110.6M110.6 529.7H112.2M110.6 528.3V529.7M110.6 528.3H111.1M111.1 528.3H114M111.1 527.2H111.7M111.7 527.2H113.7M111.7 525.6H113.5M113.5 525.6H114.3M114.3 524.4V525.6M101.8 524.5H106.6M101.8 522.4V524.5M101.8 522.4H102.8M102.8 521.3V522.4M102.8 521.3H103.9M103.9 520.4H104.4M104.9 520.4H109.7M104.9 519.8H108.7M104.4 519.5H105.8M105.8 518.2V519.5M105.8 518.2H107.1M107.1 518.2H109.8M108.1 517H116.2M109.3 515.7H110M110 515.7H115.4M110 515.1H113.5M109.3 514.1H110.1M110.1 514.1H115.6M109.4 508.7V510M109.4 508.7H110.7M110.7 508.7H112.7M112.7 508.1V508.7M112.7 508.7H113.9M112.7 508.1H114.4M110.7 507.5V508.7M111.9 506.6V507.5M113.4 506.6H127.9M113.4 505.4V506.6M113.4 505.4H115.8M115.8 505.4H117.7M117.7 505.4H122.8M117.7 504.8H123.7M117.7 504.2H121.3M117.7 503.6H122.6M115.8 504.7V505.4M117.4 504.7H136.8M117.4 503.6V504.7M117.4 503.6H118.9M118.9 502.6V503.6M118.9 502.6H120.3M120.3 502.6H133.1M120.3 501.5H121.5M121.5 500.5V501.5M124 500.5H125M125 499.9V500.5M125 500.5H128M125.4 498.2V499.4M126.7 497.2V498.2M126.7 497.2H128.2M128.2 496.3V497.2" stroke="#6783c6" stroke-width="0.6" fill="none"/>
<path d="M99.5 635.3H136.9M103.1 632.6V633.6M106.1 631.7V632.6M115 627.5H117.8M124.5 623.7V624.9M124.5 624.3H150.5M140.4 617.4H145.8M140.4 616.4H143.4M143.4 615.1V616.4M146.2 615.1H151.6M99 609.1V611M103.1 607.1V607.7M101.8 604.4V606.1M105.5 599.8H106.2M106.2 599.8H108.2M107.4 597.3H108.3M108.3 596.2H108.9M111 592.9H111.7M111.7 591.7V592.9M111.7 592.9H115.2M109 581.9V585M111.3 580.2V581.9M113.5 580.2H119.1M115.7 576.1H118.3M120.3 573.3V573.9M124.8 568.9H126.5M126.5 566.3H129.1M129.1 564.2H130.7M134.8 558.6V560.8M137.1 558.6H138M138 558V558.6M138 558.6H151.3M139.1 554.9H141.8M141.8 554.9H146.2M144.2 551.3V552.8M148.3 551.3H151M102.9 542.7H103.1M103.6 541.2H105.1M105.1 540H107.9M106.7 538.5H108M106.6 536.6V537.8M106 536H107M107 536H124.1M107 534.5V536M109.3 534.5H111.3M110.7 531.3H119.9M111.1 527.2V528.3M114.3 525.6H115.4M114.3 525H115.3M103.9 521.3H129.8M104.4 520.4H104.9M107.1 517V518.2M110 514.5H113.4M109.3 514.1V515.7M110.1 513.2V514.1M110.1 513.2H111.5M111.5 511.9V513.2M111.5 511.9H111.5M111.5 511.9H113.8M109.4 510H112M110.7 507.5H111.9M111.9 507.5H127.6M117.7 503.6V505.4M118.9 503.6H140.8M120.3 501.5V502.6M124 499.4H125.4M125.4 499.4H127.8M128.2 497.2H138.4M130.1 496.3H136.6" stroke="#8aa0d6" stroke-width="0.6" fill="none"/>
<path d="M146.4 549V553" stroke="#6783c6" stroke-width="0.9" fill="none"/>
<path d="M101.8 507H107" stroke="#6783c6" stroke-width="0.8" fill="none"/>
<path d="M120 493.7V495.5M120 495.5H131.7M118 494.5V495.5M119 493.6V494.5M120.6 493V493.6M120.6 493.6H127.4M120.6 493H127.2M121 492.4H121.9M121.9 491.8H137.8M122.7 491.8H126.4M123.4 490H130.5M123.4 489.4H132.6M123.3 488.9H123.4M120.4 481H132.7M119.5 479.3V479.6M119.5 479.3H119.7M123.3 476.7H124.3M125 475.8H133.5M125 475.4H125.3" stroke="#5673ba" stroke-width="0.7" fill="none"/>
<path d="M119.7 493.3V493.6M119.7 492.4V493.3M121.9 491.8V492.4M121.5 491.2V491.8M121.5 491.2H122.1M122.1 491.2H123.4M123.4 490.6H131.6M123.7 488.2H125.3M121.2 479V479.6M121.2 479H124.1M122.2 478.2V478.8M120.9 478.3V478.8M122.6 477.8H132.2M123.3 475.5V477.3M123.3 475.5H125M122.6 476.7V477.3M123 476.7H125.4M125.3 474.8V475.4M126.3 474.8H128.1" stroke="#8aa0d6" stroke-width="0.7" fill="none"/>
<path d="M27.3 672.7V676M27.3 676H72M27.3 672.7H100" stroke="#9aa4d6" stroke-width="0.7" fill="none"/>
<path d="M27.3 672.7H101M101 672.7V675.3" stroke="#9aa4d6" stroke-width="0.6" fill="none"/>
<path d="M101 668V673.9M101 668H118M118 661V669.2M118 661H129.5M129.5 657V662.2M129.5 657H144.7M144.7 655.5V658.2M144.7 655.5H150.5M150.5 653V656.7M150.5 653H156.4M156.4 648.5V654.2M156.4 648.5H166.5M166.5 643V649.7M166.5 643H179.6M179.6 640.8V644.2M179.6 640.8H188.4" stroke="#9aa4d6" stroke-width="0.65" fill="none"/>
<path d="M101.3 673.9H105.1M101.3 673.2V673.9M103 672.5H141.6M103 671.9H103M103 671.4V671.9M120.6 666.7V668.5M120.6 666.7H145.3M118.8 667.8V668.5M119.7 667.8H145.6M119.7 667.2H153.3M119 667.2V667.8M120.7 666.9H121.6M121.6 666.9H141.4M130 661H176.6M129.5 661.5V662.2M129.5 661.5H130.6M132.4 661H164.7M132.4 660.4H171.5M131.4 659.7V660.2M145.5 657.4H150.9M146.1 656.2V656.8M146.1 656.2H146.5M146.5 656.2H186.1M146.5 655.9V656.2M150.8 656.7H162.9M151.8 654.9H152.7M156.9 654.2H157.5M157.5 653.6V654.2M156.9 653.2H157.5M157.5 652.9H158.3M159.4 651.7V652.9M159.4 651.7H177.8M158.3 652.3H159M160 652.3H185.5M159 651.9V652.3M159.1 651.9H159.9M159.9 651.3H162.3M159.9 650.7H163.1M159.9 650.1H163.7M166.5 648.9V649.7M166.5 648.9H167.6M167.6 647.7V648.4M182 642.4V644.2M182 644.2H183.5M182 643.6H183.6M182 642.4H183.5M180.1 643.5V644.2M180.1 643.5H180.3M180.3 643.5H185.3M180.3 642.9V643.5M181.4 642.4V642.9M181.4 642.4H181.9M187.4 640.8V642M187.4 640.8H192.1M186.5 641.2V642M186.5 641.2H187.5M187.5 640.6V641.2M189.2 639.2V639.8M189.2 639.2H190" stroke="#aab2df" stroke-width="0.55" fill="none"/>
<path d="M101.3 673.2H101.3M101.3 672.5V673.2M101.3 672.5H103M103 671.4H103.6M118 669.2H152M118 668.5V669.2M118 668.5H118.8M118.8 668.5H120.6M120.6 668.5H145.9M120.6 667.9H149.8M118.8 667.8H119M119.7 666.6H155.8M119.7 666H149.2M119 667.2H119.9M119.9 666.9V667.2M121.6 666.3H136.1M130 661V662.2M130 661.6H161.8M130.6 661.5H182.3M130.6 661V661.5M130.6 661H131.2M131.2 661H132.4M132.4 659.2V661M132.4 659.2H175.2M131.4 660.2H174.4M131.4 659.7H132.1M145 658.2H178.5M145 657.4V658.2M145 657.4H145.5M145.5 656.8V657.4M146.5 655.9H148.3M150.8 655.7V656.7M151.6 655.2V655.7M151.6 655.2H151.8M152.7 654.3V654.9M153.5 654.3H155.4M155.4 652.5V654.3M157.5 654.2H159.1M159 652.6H195.1M157.5 652.9V653.2M158.3 652.9H159.4M160 651.7V652.3M160 651.7H198.1M159.9 650.1V651.9M159.9 651.9H163.9M167.6 648.9H168.4M168.4 647.1V648.9M168.4 647.7H197.2M167.6 648.4H172.1M167.6 647.7H168.6M169.1 647.7H176.5M168.6 647.3H168.9M168.9 647.3H179.1M181.4 642.9H182.9M181.9 641.8V642.4M181.9 641.8H182.6M182.6 641.8H184.1M186.5 642H187.4M187.4 642H193M187.5 640.6H188.1M188.1 639.8V640.6M188.1 639.8H189.2M189.2 639.8H190.5" stroke="#9aa4d6" stroke-width="0.55" fill="none"/>
<path d="M101.3 673.2H104.8M103 671.9V672.5M103 671.9H132.3M103.6 671.4H108.9M120.6 667.3H153.3M119 667.8H119.7M119.7 666V667.8M119.9 667.2H155.6M119.9 666.9H120.7M121.6 666.3V666.9M129.5 662.2H130M130 662.2H171.4M132.4 659.8H172.2M131.2 660.2V661M131.2 660.2H131.4M132.1 659.7H161.9M145.5 656.8H146.1M146.1 656.8H180.9M148.3 655.9H190.5M150.8 655.7H151.6M151.6 655.7H157.4M151.8 655.2H156.2M151.8 654.9V655.2M152.7 654.9H155.3M152.7 654.3H153.5M155.4 654.3H163.7M155.4 653.7H165.6M155.4 653.1H164.5M155.4 652.5H165M157.5 653.6H160.3M156.9 653.2V654.2M157.5 653.2H159M159 652.6V653.2M159 653.2H192M159.4 652.9H182.6M159.4 652.3H174.9M158.3 652.3V652.9M159 652.3H160M159 651.9H159.1M166.5 649.7H192M168.4 648.9H188.3M168.4 648.3H190.3M168.4 647.1H188M167.6 648.4V648.9M167.6 648.4H167.6M168.6 647.7H169.1M169.1 646.5V647.7M169.1 647.1H176.1M169.1 646.5H176.7M168.6 647.3V647.7M180.1 644.2H182M182 643H183.2M180.3 642.9H181.4M181.9 642.4H189.8M187.4 641.4H193M187.5 641.2H190.4M188.1 640.6H192.1M190.5 639.2V639.8M190.5 639.8H192.4M190.5 639.2H192.8M190 639.2H191.5" stroke="#bcc2e6" stroke-width="0.55" fill="none"/>
<path d="M101 675.3H133" stroke="#aab2df" stroke-width="0.6" fill="none"/>
<path d="M118 670.5H162" stroke="#bcc2e6" stroke-width="0.6" fill="none"/>
<path d="M188.4 637.5V642" stroke="#9aa4d6" stroke-width="0.8" fill="none"/>
<rect x="18.6" y="383.3" width="11" height="10.6" fill="#c2c8e8" stroke="#a2a6b6" stroke-width="0.7"/>
<text x="32.9" y="390.8" font-size="6.0" fill="#2a2a2a" text-anchor="start" stroke="#2a2a2a" stroke-width="0.22" textLength="28" lengthAdjust="spacingAndGlyphs" >Gentoype I</text>
<rect x="18.6" y="397.5" width="11" height="10.6" fill="#7192d0" stroke="#7080a8" stroke-width="0.7"/>
<text x="32.9" y="405" font-size="6.0" fill="#2a2a2a" text-anchor="start" stroke="#2a2a2a" stroke-width="0.22" textLength="29.9" lengthAdjust="spacingAndGlyphs" >Gentoype II</text>
<rect x="18.6" y="411.7" width="11" height="10.6" fill="#1f5b6f" stroke="#3a6070" stroke-width="0.7"/>
<text x="32.9" y="419.2" font-size="6.0" fill="#2a2a2a" text-anchor="start" stroke="#2a2a2a" stroke-width="0.22" textLength="31.6" lengthAdjust="spacingAndGlyphs" >Gentoype III</text>
<rect x="18.6" y="425.9" width="11" height="10.6" fill="#c9bfd1" stroke="#a8a0ae" stroke-width="0.7"/>
<text x="32.9" y="433.4" font-size="6.0" fill="#2a2a2a" text-anchor="start" stroke="#2a2a2a" stroke-width="0.22" textLength="31.2" lengthAdjust="spacingAndGlyphs" >Gentoype V</text>
<line x1="33.6" y1="540.5" x2="52.7" y2="540.5" stroke="#333" stroke-width="0.6"/>
<text x="42.7" y="546.4" font-size="6.2" fill="#333" text-anchor="middle" stroke="#333" stroke-width="0.22" textLength="13.6" lengthAdjust="spacingAndGlyphs" >0.007</text>
<text x="167.8" y="372" font-size="6.2" fill="#222" text-anchor="start" stroke="#222" stroke-width="0.22" textLength="40.4" lengthAdjust="spacingAndGlyphs" >American clade</text>
<polyline points="226.1,350.6 212.5,376 212.5,395.2 226.1,419.7" fill="none" stroke="#6a6a6a" stroke-width="0.8"/>
</svg></body></html>
